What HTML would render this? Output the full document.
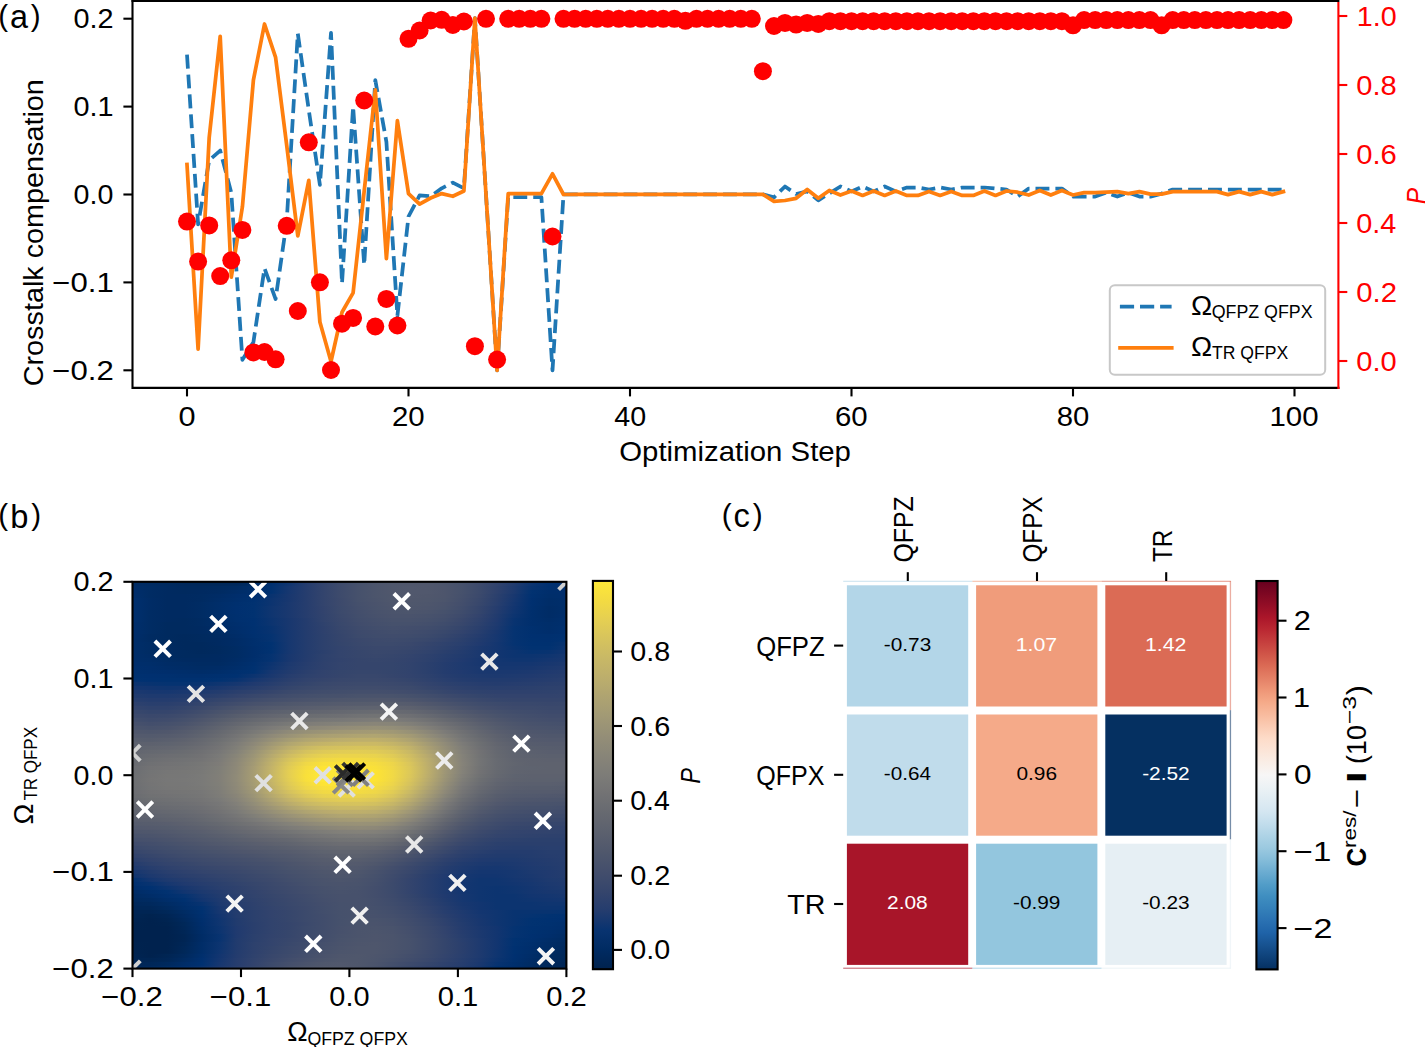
<!DOCTYPE html>
<html><head><meta charset="utf-8"><title>figure</title>
<style>
html,body{margin:0;padding:0;background:#fff;width:1425px;height:1047px;overflow:hidden;}
svg{display:block;}
text{font-family:"Liberation Sans", sans-serif;}
</style></head><body>
<svg width="1425" height="1047" viewBox="0 0 1425 1047">
<rect width="1425" height="1047" fill="#fff"/>
<defs><clipPath id="ca"><rect x="132.5" y="1.0" width="1205.9" height="386.9"/></clipPath></defs>
<g clip-path="url(#ca)">
<polyline points="187.0,54.7 198.1,224.4 209.2,160.2 220.2,150.6 231.3,192.7 242.4,359.8 253.4,342.2 264.5,268.3 275.6,299.1 286.7,221.7 297.8,33.6 308.8,110.1 319.9,184.8 331.0,32.8 342.0,283.3 353.1,106.6 364.2,264.8 375.3,80.2 386.4,141.8 397.4,315.8 408.5,216.5 419.6,195.4 430.6,196.3 441.7,188.3 452.8,182.6 463.9,188.3 474.9,18.1 486.0,194.5 497.1,370.3 508.2,197.1 519.2,197.1 530.3,197.1 541.4,197.1 552.5,370.3 563.5,194.5 574.6,194.4 585.7,194.4 596.8,194.4 607.8,194.4 618.9,194.4 630.0,194.4 641.1,194.4 652.1,194.4 663.2,194.4 674.3,194.4 685.4,194.4 696.5,194.4 707.5,194.4 718.6,194.4 729.7,194.4 740.8,194.4 751.8,194.4 762.9,194.4 774.0,197.3 785.0,186.5 796.1,194.0 807.2,191.4 818.3,200.3 829.3,193.4 840.4,186.5 851.5,191.4 862.6,186.5 873.6,191.4 884.7,186.5 895.8,191.4 906.9,187.5 917.9,187.5 929.0,189.5 940.1,187.5 951.2,189.5 962.2,187.5 973.3,187.5 984.4,187.5 995.5,188.5 1006.5,189.5 1017.6,196.6 1028.7,188.5 1039.8,188.5 1050.8,188.5 1061.9,188.5 1073.0,196.6 1084.1,196.6 1095.2,196.6 1106.2,192.6 1117.3,196.6 1128.4,192.6 1139.4,196.6 1150.5,196.6 1161.6,193.6 1172.7,189.5 1183.8,189.5 1194.8,189.5 1205.9,189.5 1217.0,189.5 1228.0,189.5 1239.1,189.5 1250.2,189.5 1261.3,189.5 1272.3,189.5 1283.4,189.5" fill="none" stroke="#1f77b4" stroke-width="3.75" stroke-dasharray="13.9 6" stroke-linejoin="round"/>
<polyline points="187.0,164.6 198.1,349.2 209.2,137.4 220.2,36.3 231.3,277.1 242.4,206.8 253.4,80.2 264.5,24.0 275.6,57.4 286.7,145.3 297.8,235.8 308.8,180.4 319.9,322.0 331.0,361.5 342.0,312.3 353.1,292.9 364.2,191.0 375.3,89.9 386.4,258.7 397.4,120.7 408.5,193.6 419.6,204.2 430.6,198.0 441.7,193.6 452.8,196.3 463.9,191.0 474.9,18.1 486.0,194.5 497.1,370.3 508.2,193.6 519.2,193.6 530.3,193.6 541.4,193.6 552.5,173.8 563.5,194.5 574.6,194.4 585.7,194.4 596.8,194.4 607.8,194.4 618.9,194.4 630.0,194.4 641.1,194.4 652.1,194.4 663.2,194.4 674.3,194.4 685.4,194.4 696.5,194.4 707.5,194.4 718.6,194.4 729.7,194.4 740.8,194.4 751.8,194.4 762.9,194.4 774.0,201.3 785.0,200.5 796.1,198.3 807.2,189.5 818.3,198.3 829.3,190.5 840.4,195.0 851.5,191.0 862.6,195.4 873.6,191.0 884.7,195.4 895.8,191.0 906.9,195.4 917.9,195.4 929.0,191.4 940.1,195.4 951.2,191.4 962.2,195.4 973.3,195.4 984.4,191.0 995.5,195.4 1006.5,191.0 1017.6,192.2 1028.7,195.0 1039.8,190.5 1050.8,195.0 1061.9,190.5 1073.0,195.0 1084.1,192.6 1095.2,192.6 1106.2,192.2 1117.3,191.6 1128.4,193.6 1139.4,191.6 1150.5,194.2 1161.6,194.2 1172.7,191.6 1183.8,191.6 1194.8,191.6 1205.9,191.6 1217.0,191.6 1228.0,194.6 1239.1,191.6 1250.2,194.6 1261.3,191.6 1272.3,194.6 1283.4,191.6" fill="none" stroke="#ff7f0e" stroke-width="3.75" stroke-linejoin="round" stroke-linecap="square"/>
<g fill="#ff0000">
<circle cx="187.0" cy="221.6" r="9.0"/>
<circle cx="198.1" cy="261.6" r="9.0"/>
<circle cx="209.2" cy="225.4" r="9.0"/>
<circle cx="220.2" cy="276.1" r="9.0"/>
<circle cx="231.3" cy="260.3" r="9.0"/>
<circle cx="242.4" cy="229.9" r="9.0"/>
<circle cx="253.4" cy="352.4" r="9.0"/>
<circle cx="264.5" cy="352.0" r="9.0"/>
<circle cx="275.6" cy="359.3" r="9.0"/>
<circle cx="286.7" cy="225.8" r="9.0"/>
<circle cx="297.8" cy="311.0" r="9.0"/>
<circle cx="308.8" cy="142.3" r="9.0"/>
<circle cx="319.9" cy="282.3" r="9.0"/>
<circle cx="331.0" cy="370.0" r="9.0"/>
<circle cx="342.0" cy="323.7" r="9.0"/>
<circle cx="353.1" cy="317.9" r="9.0"/>
<circle cx="364.2" cy="100.5" r="9.0"/>
<circle cx="375.3" cy="326.5" r="9.0"/>
<circle cx="386.4" cy="298.9" r="9.0"/>
<circle cx="397.4" cy="325.5" r="9.0"/>
<circle cx="408.5" cy="38.8" r="9.0"/>
<circle cx="419.6" cy="30.5" r="9.0"/>
<circle cx="430.6" cy="20.5" r="9.0"/>
<circle cx="441.7" cy="19.8" r="9.0"/>
<circle cx="452.8" cy="25.0" r="9.0"/>
<circle cx="463.9" cy="21.5" r="9.0"/>
<circle cx="474.9" cy="346.2" r="9.0"/>
<circle cx="486.0" cy="18.8" r="9.0"/>
<circle cx="497.1" cy="359.6" r="9.0"/>
<circle cx="508.2" cy="18.8" r="9.0"/>
<circle cx="519.2" cy="18.8" r="9.0"/>
<circle cx="530.3" cy="18.8" r="9.0"/>
<circle cx="541.4" cy="18.8" r="9.0"/>
<circle cx="552.5" cy="236.5" r="9.0"/>
<circle cx="563.5" cy="18.8" r="9.0"/>
<circle cx="574.6" cy="18.8" r="9.0"/>
<circle cx="585.7" cy="18.8" r="9.0"/>
<circle cx="596.8" cy="18.8" r="9.0"/>
<circle cx="607.8" cy="18.8" r="9.0"/>
<circle cx="618.9" cy="18.8" r="9.0"/>
<circle cx="630.0" cy="18.8" r="9.0"/>
<circle cx="641.1" cy="18.8" r="9.0"/>
<circle cx="652.1" cy="18.8" r="9.0"/>
<circle cx="663.2" cy="18.8" r="9.0"/>
<circle cx="674.3" cy="18.8" r="9.0"/>
<circle cx="685.4" cy="20.8" r="9.0"/>
<circle cx="696.5" cy="18.8" r="9.0"/>
<circle cx="707.5" cy="18.8" r="9.0"/>
<circle cx="718.6" cy="18.8" r="9.0"/>
<circle cx="729.7" cy="18.8" r="9.0"/>
<circle cx="740.8" cy="18.8" r="9.0"/>
<circle cx="751.8" cy="18.8" r="9.0"/>
<circle cx="762.9" cy="71.2" r="9.0"/>
<circle cx="774.0" cy="26.0" r="9.0"/>
<circle cx="785.0" cy="22.9" r="9.0"/>
<circle cx="796.1" cy="24.6" r="9.0"/>
<circle cx="807.2" cy="22.9" r="9.0"/>
<circle cx="818.3" cy="23.9" r="9.0"/>
<circle cx="829.3" cy="21.2" r="9.0"/>
<circle cx="840.4" cy="21.2" r="9.0"/>
<circle cx="851.5" cy="21.2" r="9.0"/>
<circle cx="862.6" cy="21.2" r="9.0"/>
<circle cx="873.6" cy="21.2" r="9.0"/>
<circle cx="884.7" cy="21.2" r="9.0"/>
<circle cx="895.8" cy="21.2" r="9.0"/>
<circle cx="906.9" cy="21.2" r="9.0"/>
<circle cx="917.9" cy="21.2" r="9.0"/>
<circle cx="929.0" cy="21.2" r="9.0"/>
<circle cx="940.1" cy="21.2" r="9.0"/>
<circle cx="951.2" cy="21.2" r="9.0"/>
<circle cx="962.2" cy="21.2" r="9.0"/>
<circle cx="973.3" cy="21.2" r="9.0"/>
<circle cx="984.4" cy="21.2" r="9.0"/>
<circle cx="995.5" cy="21.2" r="9.0"/>
<circle cx="1006.5" cy="21.2" r="9.0"/>
<circle cx="1017.6" cy="21.2" r="9.0"/>
<circle cx="1028.7" cy="21.2" r="9.0"/>
<circle cx="1039.8" cy="21.2" r="9.0"/>
<circle cx="1050.8" cy="21.2" r="9.0"/>
<circle cx="1061.9" cy="21.2" r="9.0"/>
<circle cx="1073.0" cy="25.3" r="9.0"/>
<circle cx="1084.1" cy="20.1" r="9.0"/>
<circle cx="1095.2" cy="20.1" r="9.0"/>
<circle cx="1106.2" cy="20.1" r="9.0"/>
<circle cx="1117.3" cy="20.1" r="9.0"/>
<circle cx="1128.4" cy="20.1" r="9.0"/>
<circle cx="1139.4" cy="20.1" r="9.0"/>
<circle cx="1150.5" cy="20.1" r="9.0"/>
<circle cx="1161.6" cy="25.3" r="9.0"/>
<circle cx="1172.7" cy="20.1" r="9.0"/>
<circle cx="1183.8" cy="20.1" r="9.0"/>
<circle cx="1194.8" cy="20.1" r="9.0"/>
<circle cx="1205.9" cy="20.1" r="9.0"/>
<circle cx="1217.0" cy="20.1" r="9.0"/>
<circle cx="1228.0" cy="20.1" r="9.0"/>
<circle cx="1239.1" cy="20.1" r="9.0"/>
<circle cx="1250.2" cy="20.1" r="9.0"/>
<circle cx="1261.3" cy="20.1" r="9.0"/>
<circle cx="1272.3" cy="20.1" r="9.0"/>
<circle cx="1283.4" cy="20.1" r="9.0"/>
</g></g>
<rect x="1109.8" y="285.3" width="215.4" height="89.4" rx="5" ry="5" fill="#fff" fill-opacity="0.8" stroke="#c8c8c8" stroke-width="2.0"/>
<line x1="1119.9" y1="306.7" x2="1171.6" y2="306.7" stroke="#1f77b4" stroke-width="3.75" stroke-dasharray="14.2 5.9"/>
<line x1="1118.2" y1="347.9" x2="1173.6" y2="347.9" stroke="#ff7f0e" stroke-width="3.75"/>
<text x="1191.02" y="315.1" font-size="27" textLength="21.18" lengthAdjust="spacingAndGlyphs">Ω</text>
<text x="1211.7" y="318" font-size="18.8" textLength="100.89" lengthAdjust="spacingAndGlyphs">QFPZ QFPX</text>
<text x="1191.02" y="355.8" font-size="27" textLength="21.18" lengthAdjust="spacingAndGlyphs">Ω</text>
<text x="1212.06" y="358.6" font-size="18.8" textLength="76.15" lengthAdjust="spacingAndGlyphs">TR QFPX</text>
<path d="M132.5 1.0 V387.9 H1338.4" fill="none" stroke="#000" stroke-width="2.1" stroke-linecap="square"/>
<line x1="131.5" y1="1.0" x2="1339.4" y2="1.0" stroke="#000" stroke-width="2.1"/>
<line x1="1338.4" y1="2.0" x2="1338.4" y2="388.9" stroke="#ff0000" stroke-width="2.1"/>
<line x1="123.4" y1="18.7" x2="132.5" y2="18.7" stroke="#000" stroke-width="2.1"/>
<text x="73.55" y="28.4" font-size="27.3" textLength="40.1" lengthAdjust="spacingAndGlyphs">0.2</text>
<line x1="123.4" y1="106.6" x2="132.5" y2="106.6" stroke="#000" stroke-width="2.1"/>
<text x="73.55" y="116.3" font-size="27.3" textLength="40.1" lengthAdjust="spacingAndGlyphs">0.1</text>
<line x1="123.4" y1="194.5" x2="132.5" y2="194.5" stroke="#000" stroke-width="2.1"/>
<text x="73.55" y="204.2" font-size="27.3" textLength="39.79" lengthAdjust="spacingAndGlyphs">0.0</text>
<line x1="123.4" y1="282.4" x2="132.5" y2="282.4" stroke="#000" stroke-width="2.1"/>
<text x="52.24" y="292.1" font-size="27.3" textLength="61.49" lengthAdjust="spacingAndGlyphs">−0.1</text>
<line x1="123.4" y1="370.3" x2="132.5" y2="370.3" stroke="#000" stroke-width="2.1"/>
<text x="52.24" y="380" font-size="27.3" textLength="61.49" lengthAdjust="spacingAndGlyphs">−0.2</text>
<line x1="1338.4" y1="361.0" x2="1347.3" y2="361.0" stroke="#ff0000" stroke-width="2.1"/>
<text x="1356.24" y="371.1" font-size="27.3" textLength="40.43" lengthAdjust="spacingAndGlyphs" fill="#ff0000">0.0</text>
<line x1="1338.4" y1="292.0" x2="1347.3" y2="292.0" stroke="#ff0000" stroke-width="2.1"/>
<text x="1356.23" y="302.1" font-size="27.3" textLength="40.74" lengthAdjust="spacingAndGlyphs" fill="#ff0000">0.2</text>
<line x1="1338.4" y1="223.0" x2="1347.3" y2="223.0" stroke="#ff0000" stroke-width="2.1"/>
<text x="1356.25" y="233.1" font-size="27.3" textLength="40.12" lengthAdjust="spacingAndGlyphs" fill="#ff0000">0.4</text>
<line x1="1338.4" y1="154.0" x2="1347.3" y2="154.0" stroke="#ff0000" stroke-width="2.1"/>
<text x="1356.23" y="164.1" font-size="27.3" textLength="40.59" lengthAdjust="spacingAndGlyphs" fill="#ff0000">0.6</text>
<line x1="1338.4" y1="85.0" x2="1347.3" y2="85.0" stroke="#ff0000" stroke-width="2.1"/>
<text x="1356.24" y="95.1" font-size="27.3" textLength="40.43" lengthAdjust="spacingAndGlyphs" fill="#ff0000">0.8</text>
<line x1="1338.4" y1="16.0" x2="1347.3" y2="16.0" stroke="#ff0000" stroke-width="2.1"/>
<text x="1356.75" y="26.1" font-size="27.3" textLength="39.91" lengthAdjust="spacingAndGlyphs" fill="#ff0000">1.0</text>
<line x1="187.0" y1="387.9" x2="187.0" y2="396.4" stroke="#000" stroke-width="2.1"/>
<text x="178.47" y="426" font-size="27.3" textLength="17.09" lengthAdjust="spacingAndGlyphs">0</text>
<line x1="408.5" y1="387.9" x2="408.5" y2="396.4" stroke="#000" stroke-width="2.1"/>
<text x="392.03" y="426" font-size="27.3" textLength="32.72" lengthAdjust="spacingAndGlyphs">20</text>
<line x1="630.0" y1="387.9" x2="630.0" y2="396.4" stroke="#000" stroke-width="2.1"/>
<text x="614.28" y="426" font-size="27.3" textLength="31.93" lengthAdjust="spacingAndGlyphs">40</text>
<line x1="851.5" y1="387.9" x2="851.5" y2="396.4" stroke="#000" stroke-width="2.1"/>
<text x="835.03" y="426" font-size="27.3" textLength="32.72" lengthAdjust="spacingAndGlyphs">60</text>
<line x1="1073.0" y1="387.9" x2="1073.0" y2="396.4" stroke="#000" stroke-width="2.1"/>
<text x="1056.68" y="426" font-size="27.3" textLength="32.56" lengthAdjust="spacingAndGlyphs">80</text>
<line x1="1294.5" y1="387.9" x2="1294.5" y2="396.4" stroke="#000" stroke-width="2.1"/>
<text x="1269.49" y="426" font-size="27.3" textLength="49.09" lengthAdjust="spacingAndGlyphs">100</text>
<text x="619.28" y="460.5" font-size="27.3" textLength="231.68" lengthAdjust="spacingAndGlyphs">Optimization Step</text>
<text transform="translate(42.9 386.24) rotate(-90)" x="0" y="0" font-size="27.3" textLength="307.06" lengthAdjust="spacingAndGlyphs">Crosstalk compensation</text>
<text transform="translate(1425.5 204.24) rotate(-90)" x="0" y="0" font-size="27.3" textLength="16.41" lengthAdjust="spacingAndGlyphs" fill="#ff0000" font-style="italic">P</text>
<text><tspan x="-1.74" y="26.13" font-size="29.51">(</tspan><tspan x="9.89" y="28.44" font-size="32.41">a</tspan><tspan x="30.66" y="26.13" font-size="29.51">)</tspan></text>
<defs><clipPath id="cb"><rect x="132.5" y="581.8" width="433.9" height="386.80000000000007"/></clipPath>
<linearGradient id="g0" x1="0" x2="1" y1="0" y2="0"><stop offset="0.000" stop-color="#002c64"/><stop offset="0.040" stop-color="#002b62"/><stop offset="0.080" stop-color="#002a5f"/><stop offset="0.120" stop-color="#00285b"/><stop offset="0.160" stop-color="#002859"/><stop offset="0.200" stop-color="#002859"/><stop offset="0.240" stop-color="#00285b"/><stop offset="0.280" stop-color="#002b62"/><stop offset="0.320" stop-color="#00306f"/><stop offset="0.360" stop-color="#0f3570"/><stop offset="0.400" stop-color="#243c6e"/><stop offset="0.440" stop-color="#33446d"/><stop offset="0.480" stop-color="#3e4b6c"/><stop offset="0.520" stop-color="#46516c"/><stop offset="0.560" stop-color="#4c556c"/><stop offset="0.600" stop-color="#4f576c"/><stop offset="0.640" stop-color="#50576c"/><stop offset="0.680" stop-color="#50576c"/><stop offset="0.720" stop-color="#4c556c"/><stop offset="0.760" stop-color="#46516c"/><stop offset="0.800" stop-color="#3d4a6c"/><stop offset="0.840" stop-color="#31436d"/><stop offset="0.880" stop-color="#213b6e"/><stop offset="0.920" stop-color="#0c3470"/><stop offset="0.960" stop-color="#003070"/><stop offset="1.000" stop-color="#00306f"/></linearGradient><linearGradient id="g1" x1="0" x2="1" y1="0" y2="0"><stop offset="0.000" stop-color="#002d68"/><stop offset="0.040" stop-color="#002c64"/><stop offset="0.080" stop-color="#002a61"/><stop offset="0.120" stop-color="#00295d"/><stop offset="0.160" stop-color="#00295d"/><stop offset="0.200" stop-color="#002a5f"/><stop offset="0.240" stop-color="#002b62"/><stop offset="0.280" stop-color="#002e6a"/><stop offset="0.320" stop-color="#003170"/><stop offset="0.360" stop-color="#143670"/><stop offset="0.400" stop-color="#243c6e"/><stop offset="0.440" stop-color="#33446d"/><stop offset="0.480" stop-color="#3e4b6c"/><stop offset="0.520" stop-color="#47516c"/><stop offset="0.560" stop-color="#4c556c"/><stop offset="0.600" stop-color="#4f576c"/><stop offset="0.640" stop-color="#51586d"/><stop offset="0.680" stop-color="#50576c"/><stop offset="0.720" stop-color="#4d556c"/><stop offset="0.760" stop-color="#46516c"/><stop offset="0.800" stop-color="#3c4a6c"/><stop offset="0.840" stop-color="#2f426d"/><stop offset="0.880" stop-color="#1e3a6f"/><stop offset="0.920" stop-color="#083370"/><stop offset="0.960" stop-color="#00306f"/><stop offset="1.000" stop-color="#002f6d"/></linearGradient><linearGradient id="g2" x1="0" x2="1" y1="0" y2="0"><stop offset="0.000" stop-color="#002e6c"/><stop offset="0.040" stop-color="#002c64"/><stop offset="0.080" stop-color="#002a61"/><stop offset="0.120" stop-color="#002a5f"/><stop offset="0.160" stop-color="#002a61"/><stop offset="0.200" stop-color="#002b62"/><stop offset="0.240" stop-color="#002d68"/><stop offset="0.280" stop-color="#002f6d"/><stop offset="0.320" stop-color="#013271"/><stop offset="0.360" stop-color="#163770"/><stop offset="0.400" stop-color="#263d6e"/><stop offset="0.440" stop-color="#33446d"/><stop offset="0.480" stop-color="#3e4b6c"/><stop offset="0.520" stop-color="#46516c"/><stop offset="0.560" stop-color="#4c556c"/><stop offset="0.600" stop-color="#50576c"/><stop offset="0.640" stop-color="#51586d"/><stop offset="0.680" stop-color="#51586d"/><stop offset="0.720" stop-color="#4d556c"/><stop offset="0.760" stop-color="#46516c"/><stop offset="0.800" stop-color="#3c4a6c"/><stop offset="0.840" stop-color="#2e416d"/><stop offset="0.880" stop-color="#1c396f"/><stop offset="0.920" stop-color="#013271"/><stop offset="0.960" stop-color="#002e6c"/><stop offset="1.000" stop-color="#002e6c"/></linearGradient><linearGradient id="g3" x1="0" x2="1" y1="0" y2="0"><stop offset="0.000" stop-color="#002f6d"/><stop offset="0.040" stop-color="#002c64"/><stop offset="0.080" stop-color="#002a61"/><stop offset="0.120" stop-color="#002a61"/><stop offset="0.160" stop-color="#002b62"/><stop offset="0.200" stop-color="#002c66"/><stop offset="0.240" stop-color="#002e6c"/><stop offset="0.280" stop-color="#003070"/><stop offset="0.320" stop-color="#083370"/><stop offset="0.360" stop-color="#18376f"/><stop offset="0.400" stop-color="#263d6e"/><stop offset="0.440" stop-color="#33446d"/><stop offset="0.480" stop-color="#3e4b6c"/><stop offset="0.520" stop-color="#46516c"/><stop offset="0.560" stop-color="#4c556c"/><stop offset="0.600" stop-color="#4f576c"/><stop offset="0.640" stop-color="#51586d"/><stop offset="0.680" stop-color="#50576c"/><stop offset="0.720" stop-color="#4d556c"/><stop offset="0.760" stop-color="#45506c"/><stop offset="0.800" stop-color="#3b496c"/><stop offset="0.840" stop-color="#2b406d"/><stop offset="0.880" stop-color="#18376f"/><stop offset="0.920" stop-color="#003171"/><stop offset="0.960" stop-color="#002e6a"/><stop offset="1.000" stop-color="#002e6c"/></linearGradient><linearGradient id="g4" x1="0" x2="1" y1="0" y2="0"><stop offset="0.000" stop-color="#00306f"/><stop offset="0.040" stop-color="#002c66"/><stop offset="0.080" stop-color="#002a61"/><stop offset="0.120" stop-color="#002a61"/><stop offset="0.160" stop-color="#002b62"/><stop offset="0.200" stop-color="#002d68"/><stop offset="0.240" stop-color="#002f6d"/><stop offset="0.280" stop-color="#003171"/><stop offset="0.320" stop-color="#0c3470"/><stop offset="0.360" stop-color="#18376f"/><stop offset="0.400" stop-color="#263d6e"/><stop offset="0.440" stop-color="#33446d"/><stop offset="0.480" stop-color="#3d4a6c"/><stop offset="0.520" stop-color="#46516c"/><stop offset="0.560" stop-color="#4b546c"/><stop offset="0.600" stop-color="#4f576c"/><stop offset="0.640" stop-color="#50576c"/><stop offset="0.680" stop-color="#4f576c"/><stop offset="0.720" stop-color="#4c556c"/><stop offset="0.760" stop-color="#444f6c"/><stop offset="0.800" stop-color="#39486c"/><stop offset="0.840" stop-color="#2a3f6d"/><stop offset="0.880" stop-color="#163770"/><stop offset="0.920" stop-color="#003070"/><stop offset="0.960" stop-color="#002d68"/><stop offset="1.000" stop-color="#002e6a"/></linearGradient><linearGradient id="g5" x1="0" x2="1" y1="0" y2="0"><stop offset="0.000" stop-color="#00306f"/><stop offset="0.040" stop-color="#002c66"/><stop offset="0.080" stop-color="#002a61"/><stop offset="0.120" stop-color="#002a61"/><stop offset="0.160" stop-color="#002c64"/><stop offset="0.200" stop-color="#002e6a"/><stop offset="0.240" stop-color="#00306f"/><stop offset="0.280" stop-color="#013271"/><stop offset="0.320" stop-color="#0c3470"/><stop offset="0.360" stop-color="#1a386f"/><stop offset="0.400" stop-color="#263d6e"/><stop offset="0.440" stop-color="#33446d"/><stop offset="0.480" stop-color="#3d4a6c"/><stop offset="0.520" stop-color="#45506c"/><stop offset="0.560" stop-color="#4a536c"/><stop offset="0.600" stop-color="#4e566c"/><stop offset="0.640" stop-color="#4f576c"/><stop offset="0.680" stop-color="#4e566c"/><stop offset="0.720" stop-color="#4a536c"/><stop offset="0.760" stop-color="#434e6c"/><stop offset="0.800" stop-color="#38476c"/><stop offset="0.840" stop-color="#293f6e"/><stop offset="0.880" stop-color="#143670"/><stop offset="0.920" stop-color="#003070"/><stop offset="0.960" stop-color="#002d68"/><stop offset="1.000" stop-color="#002e6a"/></linearGradient><linearGradient id="g6" x1="0" x2="1" y1="0" y2="0"><stop offset="0.000" stop-color="#00306f"/><stop offset="0.040" stop-color="#002c66"/><stop offset="0.080" stop-color="#002a61"/><stop offset="0.120" stop-color="#002a61"/><stop offset="0.160" stop-color="#002c64"/><stop offset="0.200" stop-color="#002e6a"/><stop offset="0.240" stop-color="#003070"/><stop offset="0.280" stop-color="#013271"/><stop offset="0.320" stop-color="#0f3570"/><stop offset="0.360" stop-color="#1a386f"/><stop offset="0.400" stop-color="#263d6e"/><stop offset="0.440" stop-color="#32436d"/><stop offset="0.480" stop-color="#3c4a6c"/><stop offset="0.520" stop-color="#444f6c"/><stop offset="0.560" stop-color="#49536c"/><stop offset="0.600" stop-color="#4d556c"/><stop offset="0.640" stop-color="#4e566c"/><stop offset="0.680" stop-color="#4d556c"/><stop offset="0.720" stop-color="#49536c"/><stop offset="0.760" stop-color="#414d6c"/><stop offset="0.800" stop-color="#35456c"/><stop offset="0.840" stop-color="#263d6e"/><stop offset="0.880" stop-color="#123570"/><stop offset="0.920" stop-color="#00306f"/><stop offset="0.960" stop-color="#002c66"/><stop offset="1.000" stop-color="#002e6a"/></linearGradient><linearGradient id="g7" x1="0" x2="1" y1="0" y2="0"><stop offset="0.000" stop-color="#00306f"/><stop offset="0.040" stop-color="#002c64"/><stop offset="0.080" stop-color="#002a61"/><stop offset="0.120" stop-color="#002a61"/><stop offset="0.160" stop-color="#002c64"/><stop offset="0.200" stop-color="#002e6a"/><stop offset="0.240" stop-color="#003070"/><stop offset="0.280" stop-color="#013271"/><stop offset="0.320" stop-color="#0f3570"/><stop offset="0.360" stop-color="#1a386f"/><stop offset="0.400" stop-color="#263d6e"/><stop offset="0.440" stop-color="#32436d"/><stop offset="0.480" stop-color="#3c4a6c"/><stop offset="0.520" stop-color="#434e6c"/><stop offset="0.560" stop-color="#48526c"/><stop offset="0.600" stop-color="#4b546c"/><stop offset="0.640" stop-color="#4c556c"/><stop offset="0.680" stop-color="#4b546c"/><stop offset="0.720" stop-color="#46516c"/><stop offset="0.760" stop-color="#3f4c6c"/><stop offset="0.800" stop-color="#34456c"/><stop offset="0.840" stop-color="#243c6e"/><stop offset="0.880" stop-color="#0f3570"/><stop offset="0.920" stop-color="#002f6d"/><stop offset="0.960" stop-color="#002c66"/><stop offset="1.000" stop-color="#002e6a"/></linearGradient><linearGradient id="g8" x1="0" x2="1" y1="0" y2="0"><stop offset="0.000" stop-color="#00306f"/><stop offset="0.040" stop-color="#002c64"/><stop offset="0.080" stop-color="#002a61"/><stop offset="0.120" stop-color="#002a61"/><stop offset="0.160" stop-color="#002c64"/><stop offset="0.200" stop-color="#002e6a"/><stop offset="0.240" stop-color="#00306f"/><stop offset="0.280" stop-color="#013271"/><stop offset="0.320" stop-color="#0f3570"/><stop offset="0.360" stop-color="#1a386f"/><stop offset="0.400" stop-color="#263d6e"/><stop offset="0.440" stop-color="#31436d"/><stop offset="0.480" stop-color="#3b496c"/><stop offset="0.520" stop-color="#424e6c"/><stop offset="0.560" stop-color="#47516c"/><stop offset="0.600" stop-color="#4a536c"/><stop offset="0.640" stop-color="#4a536c"/><stop offset="0.680" stop-color="#48526c"/><stop offset="0.720" stop-color="#444f6c"/><stop offset="0.760" stop-color="#3d4a6c"/><stop offset="0.800" stop-color="#32436d"/><stop offset="0.840" stop-color="#213b6e"/><stop offset="0.880" stop-color="#0c3470"/><stop offset="0.920" stop-color="#002f6d"/><stop offset="0.960" stop-color="#002c66"/><stop offset="1.000" stop-color="#002e6c"/></linearGradient><linearGradient id="g9" x1="0" x2="1" y1="0" y2="0"><stop offset="0.000" stop-color="#00306f"/><stop offset="0.040" stop-color="#002c64"/><stop offset="0.080" stop-color="#002a61"/><stop offset="0.120" stop-color="#002a5f"/><stop offset="0.160" stop-color="#002b62"/><stop offset="0.200" stop-color="#002d68"/><stop offset="0.240" stop-color="#00306f"/><stop offset="0.280" stop-color="#003171"/><stop offset="0.320" stop-color="#0c3470"/><stop offset="0.360" stop-color="#18376f"/><stop offset="0.400" stop-color="#243c6e"/><stop offset="0.440" stop-color="#31436d"/><stop offset="0.480" stop-color="#3a486c"/><stop offset="0.520" stop-color="#414d6c"/><stop offset="0.560" stop-color="#45506c"/><stop offset="0.600" stop-color="#48526c"/><stop offset="0.640" stop-color="#48526c"/><stop offset="0.680" stop-color="#46516c"/><stop offset="0.720" stop-color="#424e6c"/><stop offset="0.760" stop-color="#3a486c"/><stop offset="0.800" stop-color="#2f426d"/><stop offset="0.840" stop-color="#203a6f"/><stop offset="0.880" stop-color="#083370"/><stop offset="0.920" stop-color="#002f6d"/><stop offset="0.960" stop-color="#002d68"/><stop offset="1.000" stop-color="#002f6d"/></linearGradient><linearGradient id="g10" x1="0" x2="1" y1="0" y2="0"><stop offset="0.000" stop-color="#002f6d"/><stop offset="0.040" stop-color="#002c64"/><stop offset="0.080" stop-color="#002a5f"/><stop offset="0.120" stop-color="#002a5f"/><stop offset="0.160" stop-color="#002b62"/><stop offset="0.200" stop-color="#002d68"/><stop offset="0.240" stop-color="#002f6d"/><stop offset="0.280" stop-color="#003171"/><stop offset="0.320" stop-color="#0c3470"/><stop offset="0.360" stop-color="#18376f"/><stop offset="0.400" stop-color="#243c6e"/><stop offset="0.440" stop-color="#2f426d"/><stop offset="0.480" stop-color="#39486c"/><stop offset="0.520" stop-color="#404c6c"/><stop offset="0.560" stop-color="#444f6c"/><stop offset="0.600" stop-color="#46516c"/><stop offset="0.640" stop-color="#46516c"/><stop offset="0.680" stop-color="#444f6c"/><stop offset="0.720" stop-color="#3f4c6c"/><stop offset="0.760" stop-color="#38476c"/><stop offset="0.800" stop-color="#2d416d"/><stop offset="0.840" stop-color="#1e3a6f"/><stop offset="0.880" stop-color="#083370"/><stop offset="0.920" stop-color="#002f6d"/><stop offset="0.960" stop-color="#002e6a"/><stop offset="1.000" stop-color="#002f6d"/></linearGradient><linearGradient id="g11" x1="0" x2="1" y1="0" y2="0"><stop offset="0.000" stop-color="#002f6d"/><stop offset="0.040" stop-color="#002c64"/><stop offset="0.080" stop-color="#002a5f"/><stop offset="0.120" stop-color="#002a5f"/><stop offset="0.160" stop-color="#002a61"/><stop offset="0.200" stop-color="#002c66"/><stop offset="0.240" stop-color="#002e6c"/><stop offset="0.280" stop-color="#003170"/><stop offset="0.320" stop-color="#083370"/><stop offset="0.360" stop-color="#18376f"/><stop offset="0.400" stop-color="#243c6e"/><stop offset="0.440" stop-color="#2e416d"/><stop offset="0.480" stop-color="#38476c"/><stop offset="0.520" stop-color="#3e4b6c"/><stop offset="0.560" stop-color="#424e6c"/><stop offset="0.600" stop-color="#444f6c"/><stop offset="0.640" stop-color="#434e6c"/><stop offset="0.680" stop-color="#414d6c"/><stop offset="0.720" stop-color="#3c4a6c"/><stop offset="0.760" stop-color="#34456c"/><stop offset="0.800" stop-color="#2a3f6d"/><stop offset="0.840" stop-color="#1c396f"/><stop offset="0.880" stop-color="#053371"/><stop offset="0.920" stop-color="#00306f"/><stop offset="0.960" stop-color="#002e6a"/><stop offset="1.000" stop-color="#00306f"/></linearGradient><linearGradient id="g12" x1="0" x2="1" y1="0" y2="0"><stop offset="0.000" stop-color="#002e6c"/><stop offset="0.040" stop-color="#002c64"/><stop offset="0.080" stop-color="#002a5f"/><stop offset="0.120" stop-color="#002a5f"/><stop offset="0.160" stop-color="#002a61"/><stop offset="0.200" stop-color="#002c64"/><stop offset="0.240" stop-color="#002e6a"/><stop offset="0.280" stop-color="#003070"/><stop offset="0.320" stop-color="#083370"/><stop offset="0.360" stop-color="#163770"/><stop offset="0.400" stop-color="#233c6e"/><stop offset="0.440" stop-color="#2e416d"/><stop offset="0.480" stop-color="#36466c"/><stop offset="0.520" stop-color="#3d4a6c"/><stop offset="0.560" stop-color="#404c6c"/><stop offset="0.600" stop-color="#424e6c"/><stop offset="0.640" stop-color="#414d6c"/><stop offset="0.680" stop-color="#3e4b6c"/><stop offset="0.720" stop-color="#39486c"/><stop offset="0.760" stop-color="#32436d"/><stop offset="0.800" stop-color="#273e6e"/><stop offset="0.840" stop-color="#18376f"/><stop offset="0.880" stop-color="#053371"/><stop offset="0.920" stop-color="#00306f"/><stop offset="0.960" stop-color="#002e6c"/><stop offset="1.000" stop-color="#003070"/></linearGradient><linearGradient id="g13" x1="0" x2="1" y1="0" y2="0"><stop offset="0.000" stop-color="#002e6c"/><stop offset="0.040" stop-color="#002b62"/><stop offset="0.080" stop-color="#002a5f"/><stop offset="0.120" stop-color="#00295d"/><stop offset="0.160" stop-color="#002a5f"/><stop offset="0.200" stop-color="#002b62"/><stop offset="0.240" stop-color="#002d68"/><stop offset="0.280" stop-color="#00306f"/><stop offset="0.320" stop-color="#053371"/><stop offset="0.360" stop-color="#163770"/><stop offset="0.400" stop-color="#233c6e"/><stop offset="0.440" stop-color="#2d416d"/><stop offset="0.480" stop-color="#35456c"/><stop offset="0.520" stop-color="#3c4a6c"/><stop offset="0.560" stop-color="#3f4c6c"/><stop offset="0.600" stop-color="#404c6c"/><stop offset="0.640" stop-color="#3f4c6c"/><stop offset="0.680" stop-color="#3c4a6c"/><stop offset="0.720" stop-color="#36466c"/><stop offset="0.760" stop-color="#2e416d"/><stop offset="0.800" stop-color="#243c6e"/><stop offset="0.840" stop-color="#163770"/><stop offset="0.880" stop-color="#053371"/><stop offset="0.920" stop-color="#003070"/><stop offset="0.960" stop-color="#00306f"/><stop offset="1.000" stop-color="#003171"/></linearGradient><linearGradient id="g14" x1="0" x2="1" y1="0" y2="0"><stop offset="0.000" stop-color="#002e6a"/><stop offset="0.040" stop-color="#002b62"/><stop offset="0.080" stop-color="#002a5f"/><stop offset="0.120" stop-color="#00295d"/><stop offset="0.160" stop-color="#002a5f"/><stop offset="0.200" stop-color="#002a61"/><stop offset="0.240" stop-color="#002c66"/><stop offset="0.280" stop-color="#002f6d"/><stop offset="0.320" stop-color="#053371"/><stop offset="0.360" stop-color="#163770"/><stop offset="0.400" stop-color="#233c6e"/><stop offset="0.440" stop-color="#2d416d"/><stop offset="0.480" stop-color="#35456c"/><stop offset="0.520" stop-color="#3a486c"/><stop offset="0.560" stop-color="#3d4a6c"/><stop offset="0.600" stop-color="#3e4b6c"/><stop offset="0.640" stop-color="#3c4a6c"/><stop offset="0.680" stop-color="#39486c"/><stop offset="0.720" stop-color="#33446d"/><stop offset="0.760" stop-color="#2b406d"/><stop offset="0.800" stop-color="#213b6e"/><stop offset="0.840" stop-color="#163770"/><stop offset="0.880" stop-color="#053371"/><stop offset="0.920" stop-color="#003170"/><stop offset="0.960" stop-color="#003070"/><stop offset="1.000" stop-color="#013271"/></linearGradient><linearGradient id="g15" x1="0" x2="1" y1="0" y2="0"><stop offset="0.000" stop-color="#002e6a"/><stop offset="0.040" stop-color="#002c64"/><stop offset="0.080" stop-color="#002a5f"/><stop offset="0.120" stop-color="#00295d"/><stop offset="0.160" stop-color="#00295d"/><stop offset="0.200" stop-color="#002a61"/><stop offset="0.240" stop-color="#002c66"/><stop offset="0.280" stop-color="#002f6d"/><stop offset="0.320" stop-color="#013271"/><stop offset="0.360" stop-color="#163770"/><stop offset="0.400" stop-color="#233c6e"/><stop offset="0.440" stop-color="#2d416d"/><stop offset="0.480" stop-color="#34456c"/><stop offset="0.520" stop-color="#39486c"/><stop offset="0.560" stop-color="#3c4a6c"/><stop offset="0.600" stop-color="#3c4a6c"/><stop offset="0.640" stop-color="#3a486c"/><stop offset="0.680" stop-color="#35456c"/><stop offset="0.720" stop-color="#2f426d"/><stop offset="0.760" stop-color="#293f6e"/><stop offset="0.800" stop-color="#203a6f"/><stop offset="0.840" stop-color="#143670"/><stop offset="0.880" stop-color="#053371"/><stop offset="0.920" stop-color="#003171"/><stop offset="0.960" stop-color="#003170"/><stop offset="1.000" stop-color="#083370"/></linearGradient><linearGradient id="g16" x1="0" x2="1" y1="0" y2="0"><stop offset="0.000" stop-color="#002e6a"/><stop offset="0.040" stop-color="#002c64"/><stop offset="0.080" stop-color="#002a61"/><stop offset="0.120" stop-color="#00295d"/><stop offset="0.160" stop-color="#00295d"/><stop offset="0.200" stop-color="#002a5f"/><stop offset="0.240" stop-color="#002c64"/><stop offset="0.280" stop-color="#002e6c"/><stop offset="0.320" stop-color="#013271"/><stop offset="0.360" stop-color="#163770"/><stop offset="0.400" stop-color="#233c6e"/><stop offset="0.440" stop-color="#2d416d"/><stop offset="0.480" stop-color="#33446d"/><stop offset="0.520" stop-color="#38476c"/><stop offset="0.560" stop-color="#3a486c"/><stop offset="0.600" stop-color="#3a486c"/><stop offset="0.640" stop-color="#38476c"/><stop offset="0.680" stop-color="#33446d"/><stop offset="0.720" stop-color="#2d416d"/><stop offset="0.760" stop-color="#263d6e"/><stop offset="0.800" stop-color="#1c396f"/><stop offset="0.840" stop-color="#143670"/><stop offset="0.880" stop-color="#083370"/><stop offset="0.920" stop-color="#013271"/><stop offset="0.960" stop-color="#013271"/><stop offset="1.000" stop-color="#0c3470"/></linearGradient><linearGradient id="g17" x1="0" x2="1" y1="0" y2="0"><stop offset="0.000" stop-color="#002e6a"/><stop offset="0.040" stop-color="#002c64"/><stop offset="0.080" stop-color="#002a61"/><stop offset="0.120" stop-color="#002a5f"/><stop offset="0.160" stop-color="#00295d"/><stop offset="0.200" stop-color="#002a5f"/><stop offset="0.240" stop-color="#002c64"/><stop offset="0.280" stop-color="#002e6c"/><stop offset="0.320" stop-color="#013271"/><stop offset="0.360" stop-color="#163770"/><stop offset="0.400" stop-color="#233c6e"/><stop offset="0.440" stop-color="#2b406d"/><stop offset="0.480" stop-color="#33446d"/><stop offset="0.520" stop-color="#36466c"/><stop offset="0.560" stop-color="#39486c"/><stop offset="0.600" stop-color="#38476c"/><stop offset="0.640" stop-color="#35456c"/><stop offset="0.680" stop-color="#31436d"/><stop offset="0.720" stop-color="#2a3f6d"/><stop offset="0.760" stop-color="#233c6e"/><stop offset="0.800" stop-color="#1a386f"/><stop offset="0.840" stop-color="#123570"/><stop offset="0.880" stop-color="#0c3470"/><stop offset="0.920" stop-color="#053371"/><stop offset="0.960" stop-color="#083370"/><stop offset="1.000" stop-color="#123570"/></linearGradient><linearGradient id="g18" x1="0" x2="1" y1="0" y2="0"><stop offset="0.000" stop-color="#002e6a"/><stop offset="0.040" stop-color="#002c66"/><stop offset="0.080" stop-color="#002b62"/><stop offset="0.120" stop-color="#002a5f"/><stop offset="0.160" stop-color="#002a5f"/><stop offset="0.200" stop-color="#002a61"/><stop offset="0.240" stop-color="#002c64"/><stop offset="0.280" stop-color="#002e6c"/><stop offset="0.320" stop-color="#053371"/><stop offset="0.360" stop-color="#18376f"/><stop offset="0.400" stop-color="#233c6e"/><stop offset="0.440" stop-color="#2d416d"/><stop offset="0.480" stop-color="#33446d"/><stop offset="0.520" stop-color="#36466c"/><stop offset="0.560" stop-color="#38476c"/><stop offset="0.600" stop-color="#36466c"/><stop offset="0.640" stop-color="#33446d"/><stop offset="0.680" stop-color="#2e416d"/><stop offset="0.720" stop-color="#273e6e"/><stop offset="0.760" stop-color="#213b6e"/><stop offset="0.800" stop-color="#1a386f"/><stop offset="0.840" stop-color="#123570"/><stop offset="0.880" stop-color="#0c3470"/><stop offset="0.920" stop-color="#0c3470"/><stop offset="0.960" stop-color="#0f3570"/><stop offset="1.000" stop-color="#163770"/></linearGradient><linearGradient id="g19" x1="0" x2="1" y1="0" y2="0"><stop offset="0.000" stop-color="#002e6a"/><stop offset="0.040" stop-color="#002d68"/><stop offset="0.080" stop-color="#002c64"/><stop offset="0.120" stop-color="#002a61"/><stop offset="0.160" stop-color="#002a61"/><stop offset="0.200" stop-color="#002a61"/><stop offset="0.240" stop-color="#002c66"/><stop offset="0.280" stop-color="#002f6d"/><stop offset="0.320" stop-color="#053371"/><stop offset="0.360" stop-color="#18376f"/><stop offset="0.400" stop-color="#243c6e"/><stop offset="0.440" stop-color="#2d416d"/><stop offset="0.480" stop-color="#32436d"/><stop offset="0.520" stop-color="#35456c"/><stop offset="0.560" stop-color="#36466c"/><stop offset="0.600" stop-color="#35456c"/><stop offset="0.640" stop-color="#32436d"/><stop offset="0.680" stop-color="#2d416d"/><stop offset="0.720" stop-color="#263d6e"/><stop offset="0.760" stop-color="#203a6f"/><stop offset="0.800" stop-color="#18376f"/><stop offset="0.840" stop-color="#143670"/><stop offset="0.880" stop-color="#0f3570"/><stop offset="0.920" stop-color="#0f3570"/><stop offset="0.960" stop-color="#143670"/><stop offset="1.000" stop-color="#18376f"/></linearGradient><linearGradient id="g20" x1="0" x2="1" y1="0" y2="0"><stop offset="0.000" stop-color="#002e6c"/><stop offset="0.040" stop-color="#002e6a"/><stop offset="0.080" stop-color="#002c66"/><stop offset="0.120" stop-color="#002c64"/><stop offset="0.160" stop-color="#002b62"/><stop offset="0.200" stop-color="#002b62"/><stop offset="0.240" stop-color="#002d68"/><stop offset="0.280" stop-color="#00306f"/><stop offset="0.320" stop-color="#0c3470"/><stop offset="0.360" stop-color="#1c396f"/><stop offset="0.400" stop-color="#263d6e"/><stop offset="0.440" stop-color="#2e416d"/><stop offset="0.480" stop-color="#33446d"/><stop offset="0.520" stop-color="#35456c"/><stop offset="0.560" stop-color="#35456c"/><stop offset="0.600" stop-color="#34456c"/><stop offset="0.640" stop-color="#31436d"/><stop offset="0.680" stop-color="#2b406d"/><stop offset="0.720" stop-color="#243c6e"/><stop offset="0.760" stop-color="#1e3a6f"/><stop offset="0.800" stop-color="#18376f"/><stop offset="0.840" stop-color="#143670"/><stop offset="0.880" stop-color="#143670"/><stop offset="0.920" stop-color="#143670"/><stop offset="0.960" stop-color="#18376f"/><stop offset="1.000" stop-color="#1c396f"/></linearGradient><linearGradient id="g21" x1="0" x2="1" y1="0" y2="0"><stop offset="0.000" stop-color="#002f6d"/><stop offset="0.040" stop-color="#002e6c"/><stop offset="0.080" stop-color="#002d68"/><stop offset="0.120" stop-color="#002c66"/><stop offset="0.160" stop-color="#002c64"/><stop offset="0.200" stop-color="#002c66"/><stop offset="0.240" stop-color="#002e6a"/><stop offset="0.280" stop-color="#003170"/><stop offset="0.320" stop-color="#0f3570"/><stop offset="0.360" stop-color="#1e3a6f"/><stop offset="0.400" stop-color="#273e6e"/><stop offset="0.440" stop-color="#2e416d"/><stop offset="0.480" stop-color="#33446d"/><stop offset="0.520" stop-color="#35456c"/><stop offset="0.560" stop-color="#35456c"/><stop offset="0.600" stop-color="#34456c"/><stop offset="0.640" stop-color="#31436d"/><stop offset="0.680" stop-color="#2b406d"/><stop offset="0.720" stop-color="#243c6e"/><stop offset="0.760" stop-color="#1e3a6f"/><stop offset="0.800" stop-color="#1a386f"/><stop offset="0.840" stop-color="#163770"/><stop offset="0.880" stop-color="#163770"/><stop offset="0.920" stop-color="#18376f"/><stop offset="0.960" stop-color="#1c396f"/><stop offset="1.000" stop-color="#203a6f"/></linearGradient><linearGradient id="g22" x1="0" x2="1" y1="0" y2="0"><stop offset="0.000" stop-color="#00306f"/><stop offset="0.040" stop-color="#002f6d"/><stop offset="0.080" stop-color="#002e6c"/><stop offset="0.120" stop-color="#002e6a"/><stop offset="0.160" stop-color="#002d68"/><stop offset="0.200" stop-color="#002e6a"/><stop offset="0.240" stop-color="#00306f"/><stop offset="0.280" stop-color="#013271"/><stop offset="0.320" stop-color="#163770"/><stop offset="0.360" stop-color="#213b6e"/><stop offset="0.400" stop-color="#2a3f6d"/><stop offset="0.440" stop-color="#31436d"/><stop offset="0.480" stop-color="#34456c"/><stop offset="0.520" stop-color="#36466c"/><stop offset="0.560" stop-color="#36466c"/><stop offset="0.600" stop-color="#34456c"/><stop offset="0.640" stop-color="#31436d"/><stop offset="0.680" stop-color="#2b406d"/><stop offset="0.720" stop-color="#243c6e"/><stop offset="0.760" stop-color="#203a6f"/><stop offset="0.800" stop-color="#1a386f"/><stop offset="0.840" stop-color="#1a386f"/><stop offset="0.880" stop-color="#1a386f"/><stop offset="0.920" stop-color="#1c396f"/><stop offset="0.960" stop-color="#203a6f"/><stop offset="1.000" stop-color="#233c6e"/></linearGradient><linearGradient id="g23" x1="0" x2="1" y1="0" y2="0"><stop offset="0.000" stop-color="#003170"/><stop offset="0.040" stop-color="#003070"/><stop offset="0.080" stop-color="#00306f"/><stop offset="0.120" stop-color="#002f6d"/><stop offset="0.160" stop-color="#002f6d"/><stop offset="0.200" stop-color="#00306f"/><stop offset="0.240" stop-color="#003171"/><stop offset="0.280" stop-color="#0c3470"/><stop offset="0.320" stop-color="#1a386f"/><stop offset="0.360" stop-color="#263d6e"/><stop offset="0.400" stop-color="#2d416d"/><stop offset="0.440" stop-color="#32436d"/><stop offset="0.480" stop-color="#35456c"/><stop offset="0.520" stop-color="#38476c"/><stop offset="0.560" stop-color="#38476c"/><stop offset="0.600" stop-color="#35456c"/><stop offset="0.640" stop-color="#32436d"/><stop offset="0.680" stop-color="#2d416d"/><stop offset="0.720" stop-color="#263d6e"/><stop offset="0.760" stop-color="#213b6e"/><stop offset="0.800" stop-color="#1e3a6f"/><stop offset="0.840" stop-color="#1c396f"/><stop offset="0.880" stop-color="#1e3a6f"/><stop offset="0.920" stop-color="#203a6f"/><stop offset="0.960" stop-color="#233c6e"/><stop offset="1.000" stop-color="#263d6e"/></linearGradient><linearGradient id="g24" x1="0" x2="1" y1="0" y2="0"><stop offset="0.000" stop-color="#013271"/><stop offset="0.040" stop-color="#003171"/><stop offset="0.080" stop-color="#003170"/><stop offset="0.120" stop-color="#003170"/><stop offset="0.160" stop-color="#003170"/><stop offset="0.200" stop-color="#013271"/><stop offset="0.240" stop-color="#083370"/><stop offset="0.280" stop-color="#163770"/><stop offset="0.320" stop-color="#213b6e"/><stop offset="0.360" stop-color="#2a3f6d"/><stop offset="0.400" stop-color="#31436d"/><stop offset="0.440" stop-color="#35456c"/><stop offset="0.480" stop-color="#38476c"/><stop offset="0.520" stop-color="#39486c"/><stop offset="0.560" stop-color="#3a486c"/><stop offset="0.600" stop-color="#38476c"/><stop offset="0.640" stop-color="#34456c"/><stop offset="0.680" stop-color="#2f426d"/><stop offset="0.720" stop-color="#293f6e"/><stop offset="0.760" stop-color="#243c6e"/><stop offset="0.800" stop-color="#213b6e"/><stop offset="0.840" stop-color="#213b6e"/><stop offset="0.880" stop-color="#213b6e"/><stop offset="0.920" stop-color="#243c6e"/><stop offset="0.960" stop-color="#263d6e"/><stop offset="1.000" stop-color="#293f6e"/></linearGradient><linearGradient id="g25" x1="0" x2="1" y1="0" y2="0"><stop offset="0.000" stop-color="#0c3470"/><stop offset="0.040" stop-color="#083370"/><stop offset="0.080" stop-color="#053371"/><stop offset="0.120" stop-color="#053371"/><stop offset="0.160" stop-color="#083370"/><stop offset="0.200" stop-color="#0f3570"/><stop offset="0.240" stop-color="#163770"/><stop offset="0.280" stop-color="#203a6f"/><stop offset="0.320" stop-color="#273e6e"/><stop offset="0.360" stop-color="#2f426d"/><stop offset="0.400" stop-color="#34456c"/><stop offset="0.440" stop-color="#39486c"/><stop offset="0.480" stop-color="#3b496c"/><stop offset="0.520" stop-color="#3c4a6c"/><stop offset="0.560" stop-color="#3c4a6c"/><stop offset="0.600" stop-color="#3b496c"/><stop offset="0.640" stop-color="#38476c"/><stop offset="0.680" stop-color="#33446d"/><stop offset="0.720" stop-color="#2d416d"/><stop offset="0.760" stop-color="#293f6e"/><stop offset="0.800" stop-color="#263d6e"/><stop offset="0.840" stop-color="#243c6e"/><stop offset="0.880" stop-color="#263d6e"/><stop offset="0.920" stop-color="#273e6e"/><stop offset="0.960" stop-color="#2a3f6d"/><stop offset="1.000" stop-color="#2b406d"/></linearGradient><linearGradient id="g26" x1="0" x2="1" y1="0" y2="0"><stop offset="0.000" stop-color="#143670"/><stop offset="0.040" stop-color="#123570"/><stop offset="0.080" stop-color="#0f3570"/><stop offset="0.120" stop-color="#123570"/><stop offset="0.160" stop-color="#143670"/><stop offset="0.200" stop-color="#1a386f"/><stop offset="0.240" stop-color="#213b6e"/><stop offset="0.280" stop-color="#273e6e"/><stop offset="0.320" stop-color="#2e416d"/><stop offset="0.360" stop-color="#34456c"/><stop offset="0.400" stop-color="#39486c"/><stop offset="0.440" stop-color="#3c4a6c"/><stop offset="0.480" stop-color="#3e4b6c"/><stop offset="0.520" stop-color="#3f4c6c"/><stop offset="0.560" stop-color="#404c6c"/><stop offset="0.600" stop-color="#3e4b6c"/><stop offset="0.640" stop-color="#3c4a6c"/><stop offset="0.680" stop-color="#36466c"/><stop offset="0.720" stop-color="#32436d"/><stop offset="0.760" stop-color="#2d416d"/><stop offset="0.800" stop-color="#2a3f6d"/><stop offset="0.840" stop-color="#293f6e"/><stop offset="0.880" stop-color="#2a3f6d"/><stop offset="0.920" stop-color="#2b406d"/><stop offset="0.960" stop-color="#2d416d"/><stop offset="1.000" stop-color="#2e416d"/></linearGradient><linearGradient id="g27" x1="0" x2="1" y1="0" y2="0"><stop offset="0.000" stop-color="#1c396f"/><stop offset="0.040" stop-color="#18376f"/><stop offset="0.080" stop-color="#163770"/><stop offset="0.120" stop-color="#1a386f"/><stop offset="0.160" stop-color="#1e3a6f"/><stop offset="0.200" stop-color="#233c6e"/><stop offset="0.240" stop-color="#2a3f6d"/><stop offset="0.280" stop-color="#2f426d"/><stop offset="0.320" stop-color="#35456c"/><stop offset="0.360" stop-color="#3b496c"/><stop offset="0.400" stop-color="#3e4b6c"/><stop offset="0.440" stop-color="#414d6c"/><stop offset="0.480" stop-color="#424e6c"/><stop offset="0.520" stop-color="#444f6c"/><stop offset="0.560" stop-color="#444f6c"/><stop offset="0.600" stop-color="#434e6c"/><stop offset="0.640" stop-color="#404c6c"/><stop offset="0.680" stop-color="#3c4a6c"/><stop offset="0.720" stop-color="#36466c"/><stop offset="0.760" stop-color="#32436d"/><stop offset="0.800" stop-color="#2f426d"/><stop offset="0.840" stop-color="#2e416d"/><stop offset="0.880" stop-color="#2e416d"/><stop offset="0.920" stop-color="#2e416d"/><stop offset="0.960" stop-color="#2f426d"/><stop offset="1.000" stop-color="#31436d"/></linearGradient><linearGradient id="g28" x1="0" x2="1" y1="0" y2="0"><stop offset="0.000" stop-color="#213b6e"/><stop offset="0.040" stop-color="#1e3a6f"/><stop offset="0.080" stop-color="#1e3a6f"/><stop offset="0.120" stop-color="#213b6e"/><stop offset="0.160" stop-color="#263d6e"/><stop offset="0.200" stop-color="#2b406d"/><stop offset="0.240" stop-color="#32436d"/><stop offset="0.280" stop-color="#38476c"/><stop offset="0.320" stop-color="#3d4a6c"/><stop offset="0.360" stop-color="#414d6c"/><stop offset="0.400" stop-color="#444f6c"/><stop offset="0.440" stop-color="#46516c"/><stop offset="0.480" stop-color="#47516c"/><stop offset="0.520" stop-color="#49536c"/><stop offset="0.560" stop-color="#4a536c"/><stop offset="0.600" stop-color="#49536c"/><stop offset="0.640" stop-color="#46516c"/><stop offset="0.680" stop-color="#424e6c"/><stop offset="0.720" stop-color="#3d4a6c"/><stop offset="0.760" stop-color="#38476c"/><stop offset="0.800" stop-color="#34456c"/><stop offset="0.840" stop-color="#32436d"/><stop offset="0.880" stop-color="#32436d"/><stop offset="0.920" stop-color="#32436d"/><stop offset="0.960" stop-color="#32436d"/><stop offset="1.000" stop-color="#33446d"/></linearGradient><linearGradient id="g29" x1="0" x2="1" y1="0" y2="0"><stop offset="0.000" stop-color="#273e6e"/><stop offset="0.040" stop-color="#243c6e"/><stop offset="0.080" stop-color="#243c6e"/><stop offset="0.120" stop-color="#273e6e"/><stop offset="0.160" stop-color="#2e416d"/><stop offset="0.200" stop-color="#34456c"/><stop offset="0.240" stop-color="#3a486c"/><stop offset="0.280" stop-color="#3f4c6c"/><stop offset="0.320" stop-color="#444f6c"/><stop offset="0.360" stop-color="#47516c"/><stop offset="0.400" stop-color="#4a536c"/><stop offset="0.440" stop-color="#4c556c"/><stop offset="0.480" stop-color="#4e566c"/><stop offset="0.520" stop-color="#4f576c"/><stop offset="0.560" stop-color="#50576c"/><stop offset="0.600" stop-color="#50576c"/><stop offset="0.640" stop-color="#4d556c"/><stop offset="0.680" stop-color="#48526c"/><stop offset="0.720" stop-color="#434e6c"/><stop offset="0.760" stop-color="#3e4b6c"/><stop offset="0.800" stop-color="#3a486c"/><stop offset="0.840" stop-color="#36466c"/><stop offset="0.880" stop-color="#35456c"/><stop offset="0.920" stop-color="#35456c"/><stop offset="0.960" stop-color="#35456c"/><stop offset="1.000" stop-color="#35456c"/></linearGradient><linearGradient id="g30" x1="0" x2="1" y1="0" y2="0"><stop offset="0.000" stop-color="#2e416d"/><stop offset="0.040" stop-color="#293f6e"/><stop offset="0.080" stop-color="#2a3f6d"/><stop offset="0.120" stop-color="#2e416d"/><stop offset="0.160" stop-color="#34456c"/><stop offset="0.200" stop-color="#3b496c"/><stop offset="0.240" stop-color="#414d6c"/><stop offset="0.280" stop-color="#47516c"/><stop offset="0.320" stop-color="#4b546c"/><stop offset="0.360" stop-color="#4f576c"/><stop offset="0.400" stop-color="#52596d"/><stop offset="0.440" stop-color="#535a6d"/><stop offset="0.480" stop-color="#555b6d"/><stop offset="0.520" stop-color="#565c6d"/><stop offset="0.560" stop-color="#575d6d"/><stop offset="0.600" stop-color="#575d6d"/><stop offset="0.640" stop-color="#555b6d"/><stop offset="0.680" stop-color="#50576c"/><stop offset="0.720" stop-color="#4a536c"/><stop offset="0.760" stop-color="#444f6c"/><stop offset="0.800" stop-color="#3f4c6c"/><stop offset="0.840" stop-color="#3c4a6c"/><stop offset="0.880" stop-color="#3a486c"/><stop offset="0.920" stop-color="#39486c"/><stop offset="0.960" stop-color="#38476c"/><stop offset="1.000" stop-color="#39486c"/></linearGradient><linearGradient id="g31" x1="0" x2="1" y1="0" y2="0"><stop offset="0.000" stop-color="#33446d"/><stop offset="0.040" stop-color="#2f426d"/><stop offset="0.080" stop-color="#2f426d"/><stop offset="0.120" stop-color="#34456c"/><stop offset="0.160" stop-color="#3b496c"/><stop offset="0.200" stop-color="#424e6c"/><stop offset="0.240" stop-color="#49536c"/><stop offset="0.280" stop-color="#4f576c"/><stop offset="0.320" stop-color="#535a6d"/><stop offset="0.360" stop-color="#565c6d"/><stop offset="0.400" stop-color="#595e6e"/><stop offset="0.440" stop-color="#5b606e"/><stop offset="0.480" stop-color="#5d616e"/><stop offset="0.520" stop-color="#5e636f"/><stop offset="0.560" stop-color="#5f636f"/><stop offset="0.600" stop-color="#5f636f"/><stop offset="0.640" stop-color="#5d616e"/><stop offset="0.680" stop-color="#575d6d"/><stop offset="0.720" stop-color="#51586d"/><stop offset="0.760" stop-color="#4a536c"/><stop offset="0.800" stop-color="#444f6c"/><stop offset="0.840" stop-color="#404c6c"/><stop offset="0.880" stop-color="#3d4a6c"/><stop offset="0.920" stop-color="#3c4a6c"/><stop offset="0.960" stop-color="#3b496c"/><stop offset="1.000" stop-color="#3b496c"/></linearGradient><linearGradient id="g32" x1="0" x2="1" y1="0" y2="0"><stop offset="0.000" stop-color="#39486c"/><stop offset="0.040" stop-color="#34456c"/><stop offset="0.080" stop-color="#35456c"/><stop offset="0.120" stop-color="#3a486c"/><stop offset="0.160" stop-color="#414d6c"/><stop offset="0.200" stop-color="#49536c"/><stop offset="0.240" stop-color="#50576c"/><stop offset="0.280" stop-color="#565c6d"/><stop offset="0.320" stop-color="#5b606e"/><stop offset="0.360" stop-color="#5e636f"/><stop offset="0.400" stop-color="#61656f"/><stop offset="0.440" stop-color="#636670"/><stop offset="0.480" stop-color="#656870"/><stop offset="0.520" stop-color="#676a71"/><stop offset="0.560" stop-color="#696b71"/><stop offset="0.600" stop-color="#686a71"/><stop offset="0.640" stop-color="#656870"/><stop offset="0.680" stop-color="#5f636f"/><stop offset="0.720" stop-color="#585e6d"/><stop offset="0.760" stop-color="#51586d"/><stop offset="0.800" stop-color="#4a536c"/><stop offset="0.840" stop-color="#45506c"/><stop offset="0.880" stop-color="#414d6c"/><stop offset="0.920" stop-color="#3f4c6c"/><stop offset="0.960" stop-color="#3d4a6c"/><stop offset="1.000" stop-color="#3d4a6c"/></linearGradient><linearGradient id="g33" x1="0" x2="1" y1="0" y2="0"><stop offset="0.000" stop-color="#3d4a6c"/><stop offset="0.040" stop-color="#3a486c"/><stop offset="0.080" stop-color="#3b496c"/><stop offset="0.120" stop-color="#404c6c"/><stop offset="0.160" stop-color="#47516c"/><stop offset="0.200" stop-color="#4f576c"/><stop offset="0.240" stop-color="#575d6d"/><stop offset="0.280" stop-color="#5e626e"/><stop offset="0.320" stop-color="#636670"/><stop offset="0.360" stop-color="#676a71"/><stop offset="0.400" stop-color="#6a6c71"/><stop offset="0.440" stop-color="#6c6e72"/><stop offset="0.480" stop-color="#6e6f73"/><stop offset="0.520" stop-color="#717274"/><stop offset="0.560" stop-color="#727374"/><stop offset="0.600" stop-color="#727274"/><stop offset="0.640" stop-color="#6e6f73"/><stop offset="0.680" stop-color="#676a71"/><stop offset="0.720" stop-color="#5f636f"/><stop offset="0.760" stop-color="#575d6d"/><stop offset="0.800" stop-color="#50576c"/><stop offset="0.840" stop-color="#49536c"/><stop offset="0.880" stop-color="#45506c"/><stop offset="0.920" stop-color="#424e6c"/><stop offset="0.960" stop-color="#404c6c"/><stop offset="1.000" stop-color="#404c6c"/></linearGradient><linearGradient id="g34" x1="0" x2="1" y1="0" y2="0"><stop offset="0.000" stop-color="#424e6c"/><stop offset="0.040" stop-color="#3e4b6c"/><stop offset="0.080" stop-color="#404c6c"/><stop offset="0.120" stop-color="#45506c"/><stop offset="0.160" stop-color="#4d556c"/><stop offset="0.200" stop-color="#555c6d"/><stop offset="0.240" stop-color="#5e626e"/><stop offset="0.280" stop-color="#656870"/><stop offset="0.320" stop-color="#6b6d72"/><stop offset="0.360" stop-color="#707173"/><stop offset="0.400" stop-color="#737475"/><stop offset="0.440" stop-color="#777776"/><stop offset="0.480" stop-color="#787877"/><stop offset="0.520" stop-color="#7b7a78"/><stop offset="0.560" stop-color="#7d7c78"/><stop offset="0.600" stop-color="#7c7b78"/><stop offset="0.640" stop-color="#777777"/><stop offset="0.680" stop-color="#707173"/><stop offset="0.720" stop-color="#666970"/><stop offset="0.760" stop-color="#5e626e"/><stop offset="0.800" stop-color="#555b6d"/><stop offset="0.840" stop-color="#4e566c"/><stop offset="0.880" stop-color="#48526c"/><stop offset="0.920" stop-color="#45506c"/><stop offset="0.960" stop-color="#434e6c"/><stop offset="1.000" stop-color="#434e6c"/></linearGradient><linearGradient id="g35" x1="0" x2="1" y1="0" y2="0"><stop offset="0.000" stop-color="#47516c"/><stop offset="0.040" stop-color="#434e6c"/><stop offset="0.080" stop-color="#45506c"/><stop offset="0.120" stop-color="#4a536c"/><stop offset="0.160" stop-color="#52596d"/><stop offset="0.200" stop-color="#5b606e"/><stop offset="0.240" stop-color="#646770"/><stop offset="0.280" stop-color="#6c6e72"/><stop offset="0.320" stop-color="#737475"/><stop offset="0.360" stop-color="#797977"/><stop offset="0.400" stop-color="#7e7c78"/><stop offset="0.440" stop-color="#817f78"/><stop offset="0.480" stop-color="#848279"/><stop offset="0.520" stop-color="#878478"/><stop offset="0.560" stop-color="#898578"/><stop offset="0.600" stop-color="#878478"/><stop offset="0.640" stop-color="#817f78"/><stop offset="0.680" stop-color="#787877"/><stop offset="0.720" stop-color="#6e6f73"/><stop offset="0.760" stop-color="#646770"/><stop offset="0.800" stop-color="#5a5f6e"/><stop offset="0.840" stop-color="#52596d"/><stop offset="0.880" stop-color="#4c556c"/><stop offset="0.920" stop-color="#48526c"/><stop offset="0.960" stop-color="#46516c"/><stop offset="1.000" stop-color="#45506c"/></linearGradient><linearGradient id="g36" x1="0" x2="1" y1="0" y2="0"><stop offset="0.000" stop-color="#4b546c"/><stop offset="0.040" stop-color="#48526c"/><stop offset="0.080" stop-color="#4a536c"/><stop offset="0.120" stop-color="#50576c"/><stop offset="0.160" stop-color="#575d6d"/><stop offset="0.200" stop-color="#60646f"/><stop offset="0.240" stop-color="#6a6c71"/><stop offset="0.280" stop-color="#737475"/><stop offset="0.320" stop-color="#7c7b78"/><stop offset="0.360" stop-color="#838179"/><stop offset="0.400" stop-color="#8a8678"/><stop offset="0.440" stop-color="#8e8978"/><stop offset="0.480" stop-color="#928c78"/><stop offset="0.520" stop-color="#948e77"/><stop offset="0.560" stop-color="#969077"/><stop offset="0.600" stop-color="#938e78"/><stop offset="0.640" stop-color="#8d8878"/><stop offset="0.680" stop-color="#817f78"/><stop offset="0.720" stop-color="#757575"/><stop offset="0.760" stop-color="#696b71"/><stop offset="0.800" stop-color="#5e636f"/><stop offset="0.840" stop-color="#555c6d"/><stop offset="0.880" stop-color="#4f576c"/><stop offset="0.920" stop-color="#4b546c"/><stop offset="0.960" stop-color="#49536c"/><stop offset="1.000" stop-color="#48526c"/></linearGradient><linearGradient id="g37" x1="0" x2="1" y1="0" y2="0"><stop offset="0.000" stop-color="#50576c"/><stop offset="0.040" stop-color="#4e566c"/><stop offset="0.080" stop-color="#50576c"/><stop offset="0.120" stop-color="#555b6d"/><stop offset="0.160" stop-color="#5c616e"/><stop offset="0.200" stop-color="#656870"/><stop offset="0.240" stop-color="#6f7073"/><stop offset="0.280" stop-color="#797977"/><stop offset="0.320" stop-color="#848279"/><stop offset="0.360" stop-color="#8f8a78"/><stop offset="0.400" stop-color="#969077"/><stop offset="0.440" stop-color="#9b9476"/><stop offset="0.480" stop-color="#9f9775"/><stop offset="0.520" stop-color="#a29975"/><stop offset="0.560" stop-color="#a39a74"/><stop offset="0.600" stop-color="#a09875"/><stop offset="0.640" stop-color="#979177"/><stop offset="0.680" stop-color="#8b8778"/><stop offset="0.720" stop-color="#7c7b78"/><stop offset="0.760" stop-color="#6f7073"/><stop offset="0.800" stop-color="#636670"/><stop offset="0.840" stop-color="#595e6e"/><stop offset="0.880" stop-color="#535a6d"/><stop offset="0.920" stop-color="#4e566c"/><stop offset="0.960" stop-color="#4c556c"/><stop offset="1.000" stop-color="#4b546c"/></linearGradient><linearGradient id="g38" x1="0" x2="1" y1="0" y2="0"><stop offset="0.000" stop-color="#545a6d"/><stop offset="0.040" stop-color="#535a6d"/><stop offset="0.080" stop-color="#555b6d"/><stop offset="0.120" stop-color="#595e6e"/><stop offset="0.160" stop-color="#60646f"/><stop offset="0.200" stop-color="#696b71"/><stop offset="0.240" stop-color="#747475"/><stop offset="0.280" stop-color="#807f78"/><stop offset="0.320" stop-color="#8e8978"/><stop offset="0.360" stop-color="#999277"/><stop offset="0.400" stop-color="#a39a74"/><stop offset="0.440" stop-color="#a99f73"/><stop offset="0.480" stop-color="#aca172"/><stop offset="0.520" stop-color="#afa471"/><stop offset="0.560" stop-color="#b0a571"/><stop offset="0.600" stop-color="#aca172"/><stop offset="0.640" stop-color="#a39a74"/><stop offset="0.680" stop-color="#938e78"/><stop offset="0.720" stop-color="#838179"/><stop offset="0.760" stop-color="#737475"/><stop offset="0.800" stop-color="#666970"/><stop offset="0.840" stop-color="#5d616e"/><stop offset="0.880" stop-color="#555c6d"/><stop offset="0.920" stop-color="#51586d"/><stop offset="0.960" stop-color="#4f576c"/><stop offset="1.000" stop-color="#4f576c"/></linearGradient><linearGradient id="g39" x1="0" x2="1" y1="0" y2="0"><stop offset="0.000" stop-color="#585e6d"/><stop offset="0.040" stop-color="#575d6d"/><stop offset="0.080" stop-color="#5a5f6e"/><stop offset="0.120" stop-color="#5e626e"/><stop offset="0.160" stop-color="#656870"/><stop offset="0.200" stop-color="#6d6f72"/><stop offset="0.240" stop-color="#787877"/><stop offset="0.280" stop-color="#878478"/><stop offset="0.320" stop-color="#969077"/><stop offset="0.360" stop-color="#a59c74"/><stop offset="0.400" stop-color="#b0a571"/><stop offset="0.440" stop-color="#b7a96e"/><stop offset="0.480" stop-color="#bbad6d"/><stop offset="0.520" stop-color="#beaf6b"/><stop offset="0.560" stop-color="#beaf6b"/><stop offset="0.600" stop-color="#b9ab6d"/><stop offset="0.640" stop-color="#ada272"/><stop offset="0.680" stop-color="#9c9576"/><stop offset="0.720" stop-color="#8a8678"/><stop offset="0.760" stop-color="#777777"/><stop offset="0.800" stop-color="#6a6c71"/><stop offset="0.840" stop-color="#5f636f"/><stop offset="0.880" stop-color="#585e6d"/><stop offset="0.920" stop-color="#545a6d"/><stop offset="0.960" stop-color="#52596d"/><stop offset="1.000" stop-color="#52596d"/></linearGradient><linearGradient id="g40" x1="0" x2="1" y1="0" y2="0"><stop offset="0.000" stop-color="#5c616e"/><stop offset="0.040" stop-color="#5d616e"/><stop offset="0.080" stop-color="#5e636f"/><stop offset="0.120" stop-color="#62656f"/><stop offset="0.160" stop-color="#686a71"/><stop offset="0.200" stop-color="#717274"/><stop offset="0.240" stop-color="#7d7c78"/><stop offset="0.280" stop-color="#8d8878"/><stop offset="0.320" stop-color="#9f9775"/><stop offset="0.360" stop-color="#b0a571"/><stop offset="0.400" stop-color="#bdae6c"/><stop offset="0.440" stop-color="#c4b468"/><stop offset="0.480" stop-color="#c8b866"/><stop offset="0.520" stop-color="#cbb965"/><stop offset="0.560" stop-color="#cbb965"/><stop offset="0.600" stop-color="#c4b468"/><stop offset="0.640" stop-color="#b8aa6e"/><stop offset="0.680" stop-color="#a49b74"/><stop offset="0.720" stop-color="#908b78"/><stop offset="0.760" stop-color="#7c7b78"/><stop offset="0.800" stop-color="#6d6f72"/><stop offset="0.840" stop-color="#62656f"/><stop offset="0.880" stop-color="#5b606e"/><stop offset="0.920" stop-color="#565c6d"/><stop offset="0.960" stop-color="#555b6d"/><stop offset="1.000" stop-color="#555b6d"/></linearGradient><linearGradient id="g41" x1="0" x2="1" y1="0" y2="0"><stop offset="0.000" stop-color="#5e636f"/><stop offset="0.040" stop-color="#61656f"/><stop offset="0.080" stop-color="#636670"/><stop offset="0.120" stop-color="#666970"/><stop offset="0.160" stop-color="#6c6d72"/><stop offset="0.200" stop-color="#747475"/><stop offset="0.240" stop-color="#807f78"/><stop offset="0.280" stop-color="#928d78"/><stop offset="0.320" stop-color="#a79d73"/><stop offset="0.360" stop-color="#bbad6d"/><stop offset="0.400" stop-color="#c9b965"/><stop offset="0.440" stop-color="#d2c060"/><stop offset="0.480" stop-color="#d5c25e"/><stop offset="0.520" stop-color="#d7c45c"/><stop offset="0.560" stop-color="#d6c35d"/><stop offset="0.600" stop-color="#cfbd62"/><stop offset="0.640" stop-color="#c1b26a"/><stop offset="0.680" stop-color="#aba072"/><stop offset="0.720" stop-color="#948e77"/><stop offset="0.760" stop-color="#7f7e78"/><stop offset="0.800" stop-color="#6f7073"/><stop offset="0.840" stop-color="#646770"/><stop offset="0.880" stop-color="#5d616e"/><stop offset="0.920" stop-color="#585e6d"/><stop offset="0.960" stop-color="#575d6d"/><stop offset="1.000" stop-color="#565c6d"/></linearGradient><linearGradient id="g42" x1="0" x2="1" y1="0" y2="0"><stop offset="0.000" stop-color="#62656f"/><stop offset="0.040" stop-color="#656870"/><stop offset="0.080" stop-color="#676a71"/><stop offset="0.120" stop-color="#6a6c71"/><stop offset="0.160" stop-color="#6f7073"/><stop offset="0.200" stop-color="#777777"/><stop offset="0.240" stop-color="#848279"/><stop offset="0.280" stop-color="#989277"/><stop offset="0.320" stop-color="#afa471"/><stop offset="0.360" stop-color="#c5b568"/><stop offset="0.400" stop-color="#d5c25e"/><stop offset="0.440" stop-color="#dec958"/><stop offset="0.480" stop-color="#e1cc55"/><stop offset="0.520" stop-color="#e2cd54"/><stop offset="0.560" stop-color="#e0cb56"/><stop offset="0.600" stop-color="#d9c55c"/><stop offset="0.640" stop-color="#c8b866"/><stop offset="0.680" stop-color="#b1a570"/><stop offset="0.720" stop-color="#989277"/><stop offset="0.760" stop-color="#828079"/><stop offset="0.800" stop-color="#727274"/><stop offset="0.840" stop-color="#656870"/><stop offset="0.880" stop-color="#5e636f"/><stop offset="0.920" stop-color="#5b606e"/><stop offset="0.960" stop-color="#595e6e"/><stop offset="1.000" stop-color="#595e6e"/></linearGradient><linearGradient id="g43" x1="0" x2="1" y1="0" y2="0"><stop offset="0.000" stop-color="#656870"/><stop offset="0.040" stop-color="#696b71"/><stop offset="0.080" stop-color="#6c6d72"/><stop offset="0.120" stop-color="#6d6f72"/><stop offset="0.160" stop-color="#727274"/><stop offset="0.200" stop-color="#7a7a78"/><stop offset="0.240" stop-color="#888578"/><stop offset="0.280" stop-color="#9c9576"/><stop offset="0.320" stop-color="#b6a96f"/><stop offset="0.360" stop-color="#cebc63"/><stop offset="0.400" stop-color="#dfca57"/><stop offset="0.440" stop-color="#e8d24f"/><stop offset="0.480" stop-color="#ebd44b"/><stop offset="0.520" stop-color="#ebd44b"/><stop offset="0.560" stop-color="#e9d34e"/><stop offset="0.600" stop-color="#e0cb56"/><stop offset="0.640" stop-color="#cfbd62"/><stop offset="0.680" stop-color="#b7a96e"/><stop offset="0.720" stop-color="#9c9576"/><stop offset="0.760" stop-color="#848279"/><stop offset="0.800" stop-color="#727374"/><stop offset="0.840" stop-color="#666970"/><stop offset="0.880" stop-color="#5f636f"/><stop offset="0.920" stop-color="#5c616e"/><stop offset="0.960" stop-color="#5b606e"/><stop offset="1.000" stop-color="#5b606e"/></linearGradient><linearGradient id="g44" x1="0" x2="1" y1="0" y2="0"><stop offset="0.000" stop-color="#676a71"/><stop offset="0.040" stop-color="#6c6e72"/><stop offset="0.080" stop-color="#6f7073"/><stop offset="0.120" stop-color="#717274"/><stop offset="0.160" stop-color="#747475"/><stop offset="0.200" stop-color="#7c7b78"/><stop offset="0.240" stop-color="#8b8778"/><stop offset="0.280" stop-color="#a09875"/><stop offset="0.320" stop-color="#bcae6c"/><stop offset="0.360" stop-color="#d6c35d"/><stop offset="0.400" stop-color="#e8d24f"/><stop offset="0.440" stop-color="#f1d945"/><stop offset="0.480" stop-color="#f3db42"/><stop offset="0.520" stop-color="#f3db42"/><stop offset="0.560" stop-color="#f0d846"/><stop offset="0.600" stop-color="#e7d150"/><stop offset="0.640" stop-color="#d4c15f"/><stop offset="0.680" stop-color="#bbad6d"/><stop offset="0.720" stop-color="#9e9676"/><stop offset="0.760" stop-color="#858279"/><stop offset="0.800" stop-color="#737475"/><stop offset="0.840" stop-color="#676a71"/><stop offset="0.880" stop-color="#60646f"/><stop offset="0.920" stop-color="#5e626e"/><stop offset="0.960" stop-color="#5d616e"/><stop offset="1.000" stop-color="#5d616e"/></linearGradient><linearGradient id="g45" x1="0" x2="1" y1="0" y2="0"><stop offset="0.000" stop-color="#696b71"/><stop offset="0.040" stop-color="#6f7073"/><stop offset="0.080" stop-color="#727274"/><stop offset="0.120" stop-color="#737475"/><stop offset="0.160" stop-color="#777776"/><stop offset="0.200" stop-color="#7e7c78"/><stop offset="0.240" stop-color="#8d8878"/><stop offset="0.280" stop-color="#a39a74"/><stop offset="0.320" stop-color="#c0b16a"/><stop offset="0.360" stop-color="#dcc859"/><stop offset="0.400" stop-color="#f0d846"/><stop offset="0.440" stop-color="#f9e03a"/><stop offset="0.480" stop-color="#fbe138"/><stop offset="0.520" stop-color="#f9e03a"/><stop offset="0.560" stop-color="#f6dd3f"/><stop offset="0.600" stop-color="#edd54a"/><stop offset="0.640" stop-color="#d9c55c"/><stop offset="0.680" stop-color="#bdae6c"/><stop offset="0.720" stop-color="#9f9775"/><stop offset="0.760" stop-color="#868379"/><stop offset="0.800" stop-color="#737475"/><stop offset="0.840" stop-color="#676a71"/><stop offset="0.880" stop-color="#61656f"/><stop offset="0.920" stop-color="#5e626e"/><stop offset="0.960" stop-color="#5e626e"/><stop offset="1.000" stop-color="#5e626e"/></linearGradient><linearGradient id="g46" x1="0" x2="1" y1="0" y2="0"><stop offset="0.000" stop-color="#6b6d72"/><stop offset="0.040" stop-color="#727274"/><stop offset="0.080" stop-color="#747475"/><stop offset="0.120" stop-color="#757575"/><stop offset="0.160" stop-color="#787877"/><stop offset="0.200" stop-color="#7f7e78"/><stop offset="0.240" stop-color="#8e8978"/><stop offset="0.280" stop-color="#a69c74"/><stop offset="0.320" stop-color="#c3b369"/><stop offset="0.360" stop-color="#e0cb56"/><stop offset="0.400" stop-color="#f5dc41"/><stop offset="0.440" stop-color="#fee434"/><stop offset="0.480" stop-color="#fee535"/><stop offset="0.520" stop-color="#fde334"/><stop offset="0.560" stop-color="#f9e03a"/><stop offset="0.600" stop-color="#efd748"/><stop offset="0.640" stop-color="#dbc75a"/><stop offset="0.680" stop-color="#beaf6b"/><stop offset="0.720" stop-color="#9f9775"/><stop offset="0.760" stop-color="#858279"/><stop offset="0.800" stop-color="#727374"/><stop offset="0.840" stop-color="#676a71"/><stop offset="0.880" stop-color="#60646f"/><stop offset="0.920" stop-color="#5e636f"/><stop offset="0.960" stop-color="#5e626e"/><stop offset="1.000" stop-color="#5e626e"/></linearGradient><linearGradient id="g47" x1="0" x2="1" y1="0" y2="0"><stop offset="0.000" stop-color="#6c6e72"/><stop offset="0.040" stop-color="#737475"/><stop offset="0.080" stop-color="#767676"/><stop offset="0.120" stop-color="#777776"/><stop offset="0.160" stop-color="#797977"/><stop offset="0.200" stop-color="#807f78"/><stop offset="0.240" stop-color="#8f8a78"/><stop offset="0.280" stop-color="#a79d73"/><stop offset="0.320" stop-color="#c5b568"/><stop offset="0.360" stop-color="#e4ce53"/><stop offset="0.400" stop-color="#f8df3c"/><stop offset="0.440" stop-color="#fee838"/><stop offset="0.480" stop-color="#fee838"/><stop offset="0.520" stop-color="#fee535"/><stop offset="0.560" stop-color="#fde334"/><stop offset="0.600" stop-color="#f1d945"/><stop offset="0.640" stop-color="#dcc859"/><stop offset="0.680" stop-color="#beaf6b"/><stop offset="0.720" stop-color="#9e9676"/><stop offset="0.760" stop-color="#848279"/><stop offset="0.800" stop-color="#727274"/><stop offset="0.840" stop-color="#666970"/><stop offset="0.880" stop-color="#60646f"/><stop offset="0.920" stop-color="#5e626e"/><stop offset="0.960" stop-color="#5e626e"/><stop offset="1.000" stop-color="#5e626e"/></linearGradient><linearGradient id="g48" x1="0" x2="1" y1="0" y2="0"><stop offset="0.000" stop-color="#6d6f72"/><stop offset="0.040" stop-color="#747475"/><stop offset="0.080" stop-color="#777776"/><stop offset="0.120" stop-color="#777777"/><stop offset="0.160" stop-color="#7a7a78"/><stop offset="0.200" stop-color="#817f78"/><stop offset="0.240" stop-color="#908b78"/><stop offset="0.280" stop-color="#a79d73"/><stop offset="0.320" stop-color="#c6b667"/><stop offset="0.360" stop-color="#e4ce53"/><stop offset="0.400" stop-color="#f9e03a"/><stop offset="0.440" stop-color="#fee838"/><stop offset="0.480" stop-color="#fee838"/><stop offset="0.520" stop-color="#fee838"/><stop offset="0.560" stop-color="#fde334"/><stop offset="0.600" stop-color="#f1d945"/><stop offset="0.640" stop-color="#dbc75a"/><stop offset="0.680" stop-color="#bdae6c"/><stop offset="0.720" stop-color="#9c9576"/><stop offset="0.760" stop-color="#828079"/><stop offset="0.800" stop-color="#707173"/><stop offset="0.840" stop-color="#656870"/><stop offset="0.880" stop-color="#5e636f"/><stop offset="0.920" stop-color="#5d616e"/><stop offset="0.960" stop-color="#5d616e"/><stop offset="1.000" stop-color="#5d616e"/></linearGradient><linearGradient id="g49" x1="0" x2="1" y1="0" y2="0"><stop offset="0.000" stop-color="#6d6f72"/><stop offset="0.040" stop-color="#757575"/><stop offset="0.080" stop-color="#777777"/><stop offset="0.120" stop-color="#787877"/><stop offset="0.160" stop-color="#7a7a78"/><stop offset="0.200" stop-color="#817f78"/><stop offset="0.240" stop-color="#908b78"/><stop offset="0.280" stop-color="#a79d73"/><stop offset="0.320" stop-color="#c5b568"/><stop offset="0.360" stop-color="#e2cd54"/><stop offset="0.400" stop-color="#f8df3c"/><stop offset="0.440" stop-color="#fee838"/><stop offset="0.480" stop-color="#fee838"/><stop offset="0.520" stop-color="#fee636"/><stop offset="0.560" stop-color="#fde334"/><stop offset="0.600" stop-color="#f0d846"/><stop offset="0.640" stop-color="#d9c55c"/><stop offset="0.680" stop-color="#baac6d"/><stop offset="0.720" stop-color="#9a9376"/><stop offset="0.760" stop-color="#7f7e78"/><stop offset="0.800" stop-color="#6d6f72"/><stop offset="0.840" stop-color="#636670"/><stop offset="0.880" stop-color="#5e626e"/><stop offset="0.920" stop-color="#5c616e"/><stop offset="0.960" stop-color="#5c616e"/><stop offset="1.000" stop-color="#5c616e"/></linearGradient><linearGradient id="g50" x1="0" x2="1" y1="0" y2="0"><stop offset="0.000" stop-color="#6d6f72"/><stop offset="0.040" stop-color="#747475"/><stop offset="0.080" stop-color="#777776"/><stop offset="0.120" stop-color="#777777"/><stop offset="0.160" stop-color="#7a7a78"/><stop offset="0.200" stop-color="#807f78"/><stop offset="0.240" stop-color="#8f8a78"/><stop offset="0.280" stop-color="#a59c74"/><stop offset="0.320" stop-color="#c3b369"/><stop offset="0.360" stop-color="#dfca57"/><stop offset="0.400" stop-color="#f3db42"/><stop offset="0.440" stop-color="#fee434"/><stop offset="0.480" stop-color="#fee636"/><stop offset="0.520" stop-color="#fee434"/><stop offset="0.560" stop-color="#f9e03a"/><stop offset="0.600" stop-color="#edd54a"/><stop offset="0.640" stop-color="#d5c25e"/><stop offset="0.680" stop-color="#b6a96f"/><stop offset="0.720" stop-color="#969077"/><stop offset="0.760" stop-color="#7c7b78"/><stop offset="0.800" stop-color="#6b6d72"/><stop offset="0.840" stop-color="#60646f"/><stop offset="0.880" stop-color="#5b606e"/><stop offset="0.920" stop-color="#5a5f6e"/><stop offset="0.960" stop-color="#5a5f6e"/><stop offset="1.000" stop-color="#595e6e"/></linearGradient><linearGradient id="g51" x1="0" x2="1" y1="0" y2="0"><stop offset="0.000" stop-color="#6c6e72"/><stop offset="0.040" stop-color="#737475"/><stop offset="0.080" stop-color="#767676"/><stop offset="0.120" stop-color="#777776"/><stop offset="0.160" stop-color="#797977"/><stop offset="0.200" stop-color="#7f7e78"/><stop offset="0.240" stop-color="#8e8978"/><stop offset="0.280" stop-color="#a39a74"/><stop offset="0.320" stop-color="#bfb06b"/><stop offset="0.360" stop-color="#dbc75a"/><stop offset="0.400" stop-color="#efd748"/><stop offset="0.440" stop-color="#f8df3c"/><stop offset="0.480" stop-color="#fbe138"/><stop offset="0.520" stop-color="#fbe138"/><stop offset="0.560" stop-color="#f5dc41"/><stop offset="0.600" stop-color="#e8d24f"/><stop offset="0.640" stop-color="#d0be62"/><stop offset="0.680" stop-color="#b1a570"/><stop offset="0.720" stop-color="#928d78"/><stop offset="0.760" stop-color="#787877"/><stop offset="0.800" stop-color="#686a71"/><stop offset="0.840" stop-color="#5e626e"/><stop offset="0.880" stop-color="#595e6e"/><stop offset="0.920" stop-color="#575d6d"/><stop offset="0.960" stop-color="#575d6d"/><stop offset="1.000" stop-color="#565c6d"/></linearGradient><linearGradient id="g52" x1="0" x2="1" y1="0" y2="0"><stop offset="0.000" stop-color="#6c6d72"/><stop offset="0.040" stop-color="#727274"/><stop offset="0.080" stop-color="#747475"/><stop offset="0.120" stop-color="#757575"/><stop offset="0.160" stop-color="#777777"/><stop offset="0.200" stop-color="#7e7d78"/><stop offset="0.240" stop-color="#8c8878"/><stop offset="0.280" stop-color="#a09875"/><stop offset="0.320" stop-color="#bbad6d"/><stop offset="0.360" stop-color="#d4c15f"/><stop offset="0.400" stop-color="#e7d150"/><stop offset="0.440" stop-color="#f1d945"/><stop offset="0.480" stop-color="#f3db42"/><stop offset="0.520" stop-color="#f3db42"/><stop offset="0.560" stop-color="#efd748"/><stop offset="0.600" stop-color="#e1cc55"/><stop offset="0.640" stop-color="#c9b965"/><stop offset="0.680" stop-color="#aba072"/><stop offset="0.720" stop-color="#8e8978"/><stop offset="0.760" stop-color="#757575"/><stop offset="0.800" stop-color="#656870"/><stop offset="0.840" stop-color="#5b606e"/><stop offset="0.880" stop-color="#565c6d"/><stop offset="0.920" stop-color="#555b6d"/><stop offset="0.960" stop-color="#555b6d"/><stop offset="1.000" stop-color="#545a6d"/></linearGradient><linearGradient id="g53" x1="0" x2="1" y1="0" y2="0"><stop offset="0.000" stop-color="#6a6c71"/><stop offset="0.040" stop-color="#707173"/><stop offset="0.080" stop-color="#727274"/><stop offset="0.120" stop-color="#737475"/><stop offset="0.160" stop-color="#767676"/><stop offset="0.200" stop-color="#7d7c78"/><stop offset="0.240" stop-color="#898578"/><stop offset="0.280" stop-color="#9c9576"/><stop offset="0.320" stop-color="#b5a86f"/><stop offset="0.360" stop-color="#ccba64"/><stop offset="0.400" stop-color="#dec958"/><stop offset="0.440" stop-color="#e8d24f"/><stop offset="0.480" stop-color="#ebd44b"/><stop offset="0.520" stop-color="#ebd44b"/><stop offset="0.560" stop-color="#e7d150"/><stop offset="0.600" stop-color="#dac65b"/><stop offset="0.640" stop-color="#c2b369"/><stop offset="0.680" stop-color="#a59c74"/><stop offset="0.720" stop-color="#888578"/><stop offset="0.760" stop-color="#717274"/><stop offset="0.800" stop-color="#61656f"/><stop offset="0.840" stop-color="#575d6d"/><stop offset="0.880" stop-color="#535a6d"/><stop offset="0.920" stop-color="#52596d"/><stop offset="0.960" stop-color="#51586d"/><stop offset="1.000" stop-color="#50576c"/></linearGradient><linearGradient id="g54" x1="0" x2="1" y1="0" y2="0"><stop offset="0.000" stop-color="#686a71"/><stop offset="0.040" stop-color="#6d6f72"/><stop offset="0.080" stop-color="#6f7073"/><stop offset="0.120" stop-color="#717274"/><stop offset="0.160" stop-color="#747475"/><stop offset="0.200" stop-color="#7a7a78"/><stop offset="0.240" stop-color="#868379"/><stop offset="0.280" stop-color="#979177"/><stop offset="0.320" stop-color="#ada272"/><stop offset="0.360" stop-color="#c3b369"/><stop offset="0.400" stop-color="#d3c05f"/><stop offset="0.440" stop-color="#ddc858"/><stop offset="0.480" stop-color="#e1cc55"/><stop offset="0.520" stop-color="#e1cc55"/><stop offset="0.560" stop-color="#ddc858"/><stop offset="0.600" stop-color="#d0be62"/><stop offset="0.640" stop-color="#baac6d"/><stop offset="0.680" stop-color="#9e9676"/><stop offset="0.720" stop-color="#828079"/><stop offset="0.760" stop-color="#6c6e72"/><stop offset="0.800" stop-color="#5e626e"/><stop offset="0.840" stop-color="#555b6d"/><stop offset="0.880" stop-color="#50576c"/><stop offset="0.920" stop-color="#4e566c"/><stop offset="0.960" stop-color="#4d556c"/><stop offset="1.000" stop-color="#4c556c"/></linearGradient><linearGradient id="g55" x1="0" x2="1" y1="0" y2="0"><stop offset="0.000" stop-color="#656870"/><stop offset="0.040" stop-color="#6a6c71"/><stop offset="0.080" stop-color="#6c6e72"/><stop offset="0.120" stop-color="#6e6f73"/><stop offset="0.160" stop-color="#727274"/><stop offset="0.200" stop-color="#777777"/><stop offset="0.240" stop-color="#828079"/><stop offset="0.280" stop-color="#928d78"/><stop offset="0.320" stop-color="#a69c74"/><stop offset="0.360" stop-color="#b9ab6d"/><stop offset="0.400" stop-color="#c8b866"/><stop offset="0.440" stop-color="#d1bf61"/><stop offset="0.480" stop-color="#d5c25e"/><stop offset="0.520" stop-color="#d6c35d"/><stop offset="0.560" stop-color="#d2c060"/><stop offset="0.600" stop-color="#c6b667"/><stop offset="0.640" stop-color="#b1a570"/><stop offset="0.680" stop-color="#969077"/><stop offset="0.720" stop-color="#7c7b78"/><stop offset="0.760" stop-color="#686a71"/><stop offset="0.800" stop-color="#5a5f6e"/><stop offset="0.840" stop-color="#51586d"/><stop offset="0.880" stop-color="#4c556c"/><stop offset="0.920" stop-color="#4a536c"/><stop offset="0.960" stop-color="#49536c"/><stop offset="1.000" stop-color="#48526c"/></linearGradient><linearGradient id="g56" x1="0" x2="1" y1="0" y2="0"><stop offset="0.000" stop-color="#636670"/><stop offset="0.040" stop-color="#666970"/><stop offset="0.080" stop-color="#696b71"/><stop offset="0.120" stop-color="#6b6d72"/><stop offset="0.160" stop-color="#6e6f73"/><stop offset="0.200" stop-color="#757575"/><stop offset="0.240" stop-color="#7e7d78"/><stop offset="0.280" stop-color="#8d8878"/><stop offset="0.320" stop-color="#9d9576"/><stop offset="0.360" stop-color="#aea371"/><stop offset="0.400" stop-color="#bcae6c"/><stop offset="0.440" stop-color="#c5b568"/><stop offset="0.480" stop-color="#c9b965"/><stop offset="0.520" stop-color="#cbb965"/><stop offset="0.560" stop-color="#c6b667"/><stop offset="0.600" stop-color="#bcae6c"/><stop offset="0.640" stop-color="#a89e73"/><stop offset="0.680" stop-color="#8f8a78"/><stop offset="0.720" stop-color="#777776"/><stop offset="0.760" stop-color="#646770"/><stop offset="0.800" stop-color="#555c6d"/><stop offset="0.840" stop-color="#4d556c"/><stop offset="0.880" stop-color="#48526c"/><stop offset="0.920" stop-color="#46516c"/><stop offset="0.960" stop-color="#46516c"/><stop offset="1.000" stop-color="#444f6c"/></linearGradient><linearGradient id="g57" x1="0" x2="1" y1="0" y2="0"><stop offset="0.000" stop-color="#60646f"/><stop offset="0.040" stop-color="#636670"/><stop offset="0.080" stop-color="#656870"/><stop offset="0.120" stop-color="#676a71"/><stop offset="0.160" stop-color="#6c6d72"/><stop offset="0.200" stop-color="#727274"/><stop offset="0.240" stop-color="#7a7a78"/><stop offset="0.280" stop-color="#878478"/><stop offset="0.320" stop-color="#958f77"/><stop offset="0.360" stop-color="#a39a74"/><stop offset="0.400" stop-color="#afa471"/><stop offset="0.440" stop-color="#b8aa6e"/><stop offset="0.480" stop-color="#bdae6c"/><stop offset="0.520" stop-color="#beaf6b"/><stop offset="0.560" stop-color="#bbad6d"/><stop offset="0.600" stop-color="#b0a571"/><stop offset="0.640" stop-color="#9e9676"/><stop offset="0.680" stop-color="#878478"/><stop offset="0.720" stop-color="#717274"/><stop offset="0.760" stop-color="#5e636f"/><stop offset="0.800" stop-color="#52596d"/><stop offset="0.840" stop-color="#49536c"/><stop offset="0.880" stop-color="#45506c"/><stop offset="0.920" stop-color="#434e6c"/><stop offset="0.960" stop-color="#424e6c"/><stop offset="1.000" stop-color="#404c6c"/></linearGradient><linearGradient id="g58" x1="0" x2="1" y1="0" y2="0"><stop offset="0.000" stop-color="#5e626e"/><stop offset="0.040" stop-color="#5f636f"/><stop offset="0.080" stop-color="#61656f"/><stop offset="0.120" stop-color="#646770"/><stop offset="0.160" stop-color="#686a71"/><stop offset="0.200" stop-color="#6e6f73"/><stop offset="0.240" stop-color="#767676"/><stop offset="0.280" stop-color="#807f78"/><stop offset="0.320" stop-color="#8d8878"/><stop offset="0.360" stop-color="#999277"/><stop offset="0.400" stop-color="#a39a74"/><stop offset="0.440" stop-color="#aba072"/><stop offset="0.480" stop-color="#b0a571"/><stop offset="0.520" stop-color="#b1a570"/><stop offset="0.560" stop-color="#aea371"/><stop offset="0.600" stop-color="#a59c74"/><stop offset="0.640" stop-color="#948e77"/><stop offset="0.680" stop-color="#7f7e78"/><stop offset="0.720" stop-color="#6b6d72"/><stop offset="0.760" stop-color="#5a5f6e"/><stop offset="0.800" stop-color="#4d556c"/><stop offset="0.840" stop-color="#45506c"/><stop offset="0.880" stop-color="#414d6c"/><stop offset="0.920" stop-color="#3f4c6c"/><stop offset="0.960" stop-color="#3e4b6c"/><stop offset="1.000" stop-color="#3c4a6c"/></linearGradient><linearGradient id="g59" x1="0" x2="1" y1="0" y2="0"><stop offset="0.000" stop-color="#5a5f6e"/><stop offset="0.040" stop-color="#5b606e"/><stop offset="0.080" stop-color="#5e626e"/><stop offset="0.120" stop-color="#60646f"/><stop offset="0.160" stop-color="#656870"/><stop offset="0.200" stop-color="#6b6d72"/><stop offset="0.240" stop-color="#727274"/><stop offset="0.280" stop-color="#7a7a78"/><stop offset="0.320" stop-color="#848279"/><stop offset="0.360" stop-color="#8f8a78"/><stop offset="0.400" stop-color="#979177"/><stop offset="0.440" stop-color="#9f9775"/><stop offset="0.480" stop-color="#a39a74"/><stop offset="0.520" stop-color="#a59c74"/><stop offset="0.560" stop-color="#a39a74"/><stop offset="0.600" stop-color="#9a9376"/><stop offset="0.640" stop-color="#8b8778"/><stop offset="0.680" stop-color="#777777"/><stop offset="0.720" stop-color="#656870"/><stop offset="0.760" stop-color="#555c6d"/><stop offset="0.800" stop-color="#49536c"/><stop offset="0.840" stop-color="#424e6c"/><stop offset="0.880" stop-color="#3e4b6c"/><stop offset="0.920" stop-color="#3c4a6c"/><stop offset="0.960" stop-color="#3a486c"/><stop offset="1.000" stop-color="#39486c"/></linearGradient><linearGradient id="g60" x1="0" x2="1" y1="0" y2="0"><stop offset="0.000" stop-color="#565c6d"/><stop offset="0.040" stop-color="#575d6d"/><stop offset="0.080" stop-color="#595e6e"/><stop offset="0.120" stop-color="#5d616e"/><stop offset="0.160" stop-color="#61656f"/><stop offset="0.200" stop-color="#666970"/><stop offset="0.240" stop-color="#6d6f72"/><stop offset="0.280" stop-color="#747475"/><stop offset="0.320" stop-color="#7c7b78"/><stop offset="0.360" stop-color="#848279"/><stop offset="0.400" stop-color="#8d8878"/><stop offset="0.440" stop-color="#938e78"/><stop offset="0.480" stop-color="#979177"/><stop offset="0.520" stop-color="#999277"/><stop offset="0.560" stop-color="#979177"/><stop offset="0.600" stop-color="#908b78"/><stop offset="0.640" stop-color="#817f78"/><stop offset="0.680" stop-color="#717274"/><stop offset="0.720" stop-color="#5f636f"/><stop offset="0.760" stop-color="#50576c"/><stop offset="0.800" stop-color="#45506c"/><stop offset="0.840" stop-color="#3e4b6c"/><stop offset="0.880" stop-color="#3a486c"/><stop offset="0.920" stop-color="#38476c"/><stop offset="0.960" stop-color="#36466c"/><stop offset="1.000" stop-color="#35456c"/></linearGradient><linearGradient id="g61" x1="0" x2="1" y1="0" y2="0"><stop offset="0.000" stop-color="#52596d"/><stop offset="0.040" stop-color="#545a6d"/><stop offset="0.080" stop-color="#555c6d"/><stop offset="0.120" stop-color="#595e6e"/><stop offset="0.160" stop-color="#5d616e"/><stop offset="0.200" stop-color="#62656f"/><stop offset="0.240" stop-color="#686a71"/><stop offset="0.280" stop-color="#6e6f73"/><stop offset="0.320" stop-color="#757575"/><stop offset="0.360" stop-color="#7c7b78"/><stop offset="0.400" stop-color="#828079"/><stop offset="0.440" stop-color="#888578"/><stop offset="0.480" stop-color="#8d8878"/><stop offset="0.520" stop-color="#8f8a78"/><stop offset="0.560" stop-color="#8d8878"/><stop offset="0.600" stop-color="#858279"/><stop offset="0.640" stop-color="#797977"/><stop offset="0.680" stop-color="#6a6c71"/><stop offset="0.720" stop-color="#5a5f6e"/><stop offset="0.760" stop-color="#4b546c"/><stop offset="0.800" stop-color="#414d6c"/><stop offset="0.840" stop-color="#3b496c"/><stop offset="0.880" stop-color="#36466c"/><stop offset="0.920" stop-color="#35456c"/><stop offset="0.960" stop-color="#33446d"/><stop offset="1.000" stop-color="#32436d"/></linearGradient><linearGradient id="g62" x1="0" x2="1" y1="0" y2="0"><stop offset="0.000" stop-color="#4e566c"/><stop offset="0.040" stop-color="#4f576c"/><stop offset="0.080" stop-color="#52596d"/><stop offset="0.120" stop-color="#555c6d"/><stop offset="0.160" stop-color="#595e6e"/><stop offset="0.200" stop-color="#5e636f"/><stop offset="0.240" stop-color="#646770"/><stop offset="0.280" stop-color="#696b71"/><stop offset="0.320" stop-color="#6e6f73"/><stop offset="0.360" stop-color="#737475"/><stop offset="0.400" stop-color="#797977"/><stop offset="0.440" stop-color="#7e7d78"/><stop offset="0.480" stop-color="#828079"/><stop offset="0.520" stop-color="#848279"/><stop offset="0.560" stop-color="#828079"/><stop offset="0.600" stop-color="#7c7b78"/><stop offset="0.640" stop-color="#717274"/><stop offset="0.680" stop-color="#636670"/><stop offset="0.720" stop-color="#545a6d"/><stop offset="0.760" stop-color="#46516c"/><stop offset="0.800" stop-color="#3d4a6c"/><stop offset="0.840" stop-color="#36466c"/><stop offset="0.880" stop-color="#33446d"/><stop offset="0.920" stop-color="#32436d"/><stop offset="0.960" stop-color="#31436d"/><stop offset="1.000" stop-color="#2f426d"/></linearGradient><linearGradient id="g63" x1="0" x2="1" y1="0" y2="0"><stop offset="0.000" stop-color="#49536c"/><stop offset="0.040" stop-color="#4b546c"/><stop offset="0.080" stop-color="#4e566c"/><stop offset="0.120" stop-color="#52596d"/><stop offset="0.160" stop-color="#555c6d"/><stop offset="0.200" stop-color="#5a5f6e"/><stop offset="0.240" stop-color="#5e636f"/><stop offset="0.280" stop-color="#646770"/><stop offset="0.320" stop-color="#686a71"/><stop offset="0.360" stop-color="#6c6e72"/><stop offset="0.400" stop-color="#727274"/><stop offset="0.440" stop-color="#767676"/><stop offset="0.480" stop-color="#797977"/><stop offset="0.520" stop-color="#7b7a78"/><stop offset="0.560" stop-color="#797977"/><stop offset="0.600" stop-color="#737475"/><stop offset="0.640" stop-color="#696b71"/><stop offset="0.680" stop-color="#5c616e"/><stop offset="0.720" stop-color="#4e566c"/><stop offset="0.760" stop-color="#414d6c"/><stop offset="0.800" stop-color="#39486c"/><stop offset="0.840" stop-color="#33446d"/><stop offset="0.880" stop-color="#31436d"/><stop offset="0.920" stop-color="#2f426d"/><stop offset="0.960" stop-color="#2e416d"/><stop offset="1.000" stop-color="#2d416d"/></linearGradient><linearGradient id="g64" x1="0" x2="1" y1="0" y2="0"><stop offset="0.000" stop-color="#45506c"/><stop offset="0.040" stop-color="#47516c"/><stop offset="0.080" stop-color="#4a536c"/><stop offset="0.120" stop-color="#4e566c"/><stop offset="0.160" stop-color="#52596d"/><stop offset="0.200" stop-color="#555c6d"/><stop offset="0.240" stop-color="#5a5f6e"/><stop offset="0.280" stop-color="#5e626e"/><stop offset="0.320" stop-color="#62656f"/><stop offset="0.360" stop-color="#656870"/><stop offset="0.400" stop-color="#6b6d72"/><stop offset="0.440" stop-color="#6f7073"/><stop offset="0.480" stop-color="#727374"/><stop offset="0.520" stop-color="#737475"/><stop offset="0.560" stop-color="#717274"/><stop offset="0.600" stop-color="#6c6d72"/><stop offset="0.640" stop-color="#62656f"/><stop offset="0.680" stop-color="#555c6d"/><stop offset="0.720" stop-color="#48526c"/><stop offset="0.760" stop-color="#3d4a6c"/><stop offset="0.800" stop-color="#34456c"/><stop offset="0.840" stop-color="#2f426d"/><stop offset="0.880" stop-color="#2d416d"/><stop offset="0.920" stop-color="#2b406d"/><stop offset="0.960" stop-color="#2b406d"/><stop offset="1.000" stop-color="#2b406d"/></linearGradient><linearGradient id="g65" x1="0" x2="1" y1="0" y2="0"><stop offset="0.000" stop-color="#404c6c"/><stop offset="0.040" stop-color="#434e6c"/><stop offset="0.080" stop-color="#46516c"/><stop offset="0.120" stop-color="#4a536c"/><stop offset="0.160" stop-color="#4e566c"/><stop offset="0.200" stop-color="#52596d"/><stop offset="0.240" stop-color="#555c6d"/><stop offset="0.280" stop-color="#595e6e"/><stop offset="0.320" stop-color="#5d616e"/><stop offset="0.360" stop-color="#60646f"/><stop offset="0.400" stop-color="#656870"/><stop offset="0.440" stop-color="#696b71"/><stop offset="0.480" stop-color="#6c6d72"/><stop offset="0.520" stop-color="#6c6d72"/><stop offset="0.560" stop-color="#6a6c71"/><stop offset="0.600" stop-color="#646770"/><stop offset="0.640" stop-color="#5b606e"/><stop offset="0.680" stop-color="#4f576c"/><stop offset="0.720" stop-color="#434e6c"/><stop offset="0.760" stop-color="#38476c"/><stop offset="0.800" stop-color="#31436d"/><stop offset="0.840" stop-color="#2b406d"/><stop offset="0.880" stop-color="#2a3f6d"/><stop offset="0.920" stop-color="#2a3f6d"/><stop offset="0.960" stop-color="#2a3f6d"/><stop offset="1.000" stop-color="#2a3f6d"/></linearGradient><linearGradient id="g66" x1="0" x2="1" y1="0" y2="0"><stop offset="0.000" stop-color="#3b496c"/><stop offset="0.040" stop-color="#3f4c6c"/><stop offset="0.080" stop-color="#424e6c"/><stop offset="0.120" stop-color="#46516c"/><stop offset="0.160" stop-color="#4a536c"/><stop offset="0.200" stop-color="#4d556c"/><stop offset="0.240" stop-color="#51586d"/><stop offset="0.280" stop-color="#555b6d"/><stop offset="0.320" stop-color="#575d6d"/><stop offset="0.360" stop-color="#5b606e"/><stop offset="0.400" stop-color="#5f636f"/><stop offset="0.440" stop-color="#636670"/><stop offset="0.480" stop-color="#656870"/><stop offset="0.520" stop-color="#656870"/><stop offset="0.560" stop-color="#636670"/><stop offset="0.600" stop-color="#5d616e"/><stop offset="0.640" stop-color="#545a6d"/><stop offset="0.680" stop-color="#49536c"/><stop offset="0.720" stop-color="#3d4a6c"/><stop offset="0.760" stop-color="#33446d"/><stop offset="0.800" stop-color="#2d416d"/><stop offset="0.840" stop-color="#293f6e"/><stop offset="0.880" stop-color="#273e6e"/><stop offset="0.920" stop-color="#273e6e"/><stop offset="0.960" stop-color="#293f6e"/><stop offset="1.000" stop-color="#293f6e"/></linearGradient><linearGradient id="g67" x1="0" x2="1" y1="0" y2="0"><stop offset="0.000" stop-color="#36466c"/><stop offset="0.040" stop-color="#3b496c"/><stop offset="0.080" stop-color="#3f4c6c"/><stop offset="0.120" stop-color="#424e6c"/><stop offset="0.160" stop-color="#46516c"/><stop offset="0.200" stop-color="#49536c"/><stop offset="0.240" stop-color="#4d556c"/><stop offset="0.280" stop-color="#50576c"/><stop offset="0.320" stop-color="#535a6d"/><stop offset="0.360" stop-color="#565c6d"/><stop offset="0.400" stop-color="#5a5f6e"/><stop offset="0.440" stop-color="#5e636f"/><stop offset="0.480" stop-color="#60646f"/><stop offset="0.520" stop-color="#60646f"/><stop offset="0.560" stop-color="#5d616e"/><stop offset="0.600" stop-color="#565c6d"/><stop offset="0.640" stop-color="#4e566c"/><stop offset="0.680" stop-color="#434e6c"/><stop offset="0.720" stop-color="#39486c"/><stop offset="0.760" stop-color="#2e416d"/><stop offset="0.800" stop-color="#293f6e"/><stop offset="0.840" stop-color="#243c6e"/><stop offset="0.880" stop-color="#243c6e"/><stop offset="0.920" stop-color="#243c6e"/><stop offset="0.960" stop-color="#273e6e"/><stop offset="1.000" stop-color="#273e6e"/></linearGradient><linearGradient id="g68" x1="0" x2="1" y1="0" y2="0"><stop offset="0.000" stop-color="#31436d"/><stop offset="0.040" stop-color="#36466c"/><stop offset="0.080" stop-color="#3b496c"/><stop offset="0.120" stop-color="#3f4c6c"/><stop offset="0.160" stop-color="#424e6c"/><stop offset="0.200" stop-color="#45506c"/><stop offset="0.240" stop-color="#48526c"/><stop offset="0.280" stop-color="#4b546c"/><stop offset="0.320" stop-color="#4f576c"/><stop offset="0.360" stop-color="#52596d"/><stop offset="0.400" stop-color="#565c6d"/><stop offset="0.440" stop-color="#5a5f6e"/><stop offset="0.480" stop-color="#5c616e"/><stop offset="0.520" stop-color="#5c616e"/><stop offset="0.560" stop-color="#575d6d"/><stop offset="0.600" stop-color="#51586d"/><stop offset="0.640" stop-color="#48526c"/><stop offset="0.680" stop-color="#3e4b6c"/><stop offset="0.720" stop-color="#33446d"/><stop offset="0.760" stop-color="#2a3f6d"/><stop offset="0.800" stop-color="#243c6e"/><stop offset="0.840" stop-color="#213b6e"/><stop offset="0.880" stop-color="#213b6e"/><stop offset="0.920" stop-color="#233c6e"/><stop offset="0.960" stop-color="#263d6e"/><stop offset="1.000" stop-color="#273e6e"/></linearGradient><linearGradient id="g69" x1="0" x2="1" y1="0" y2="0"><stop offset="0.000" stop-color="#2b406d"/><stop offset="0.040" stop-color="#32436d"/><stop offset="0.080" stop-color="#36466c"/><stop offset="0.120" stop-color="#3b496c"/><stop offset="0.160" stop-color="#3e4b6c"/><stop offset="0.200" stop-color="#414d6c"/><stop offset="0.240" stop-color="#444f6c"/><stop offset="0.280" stop-color="#47516c"/><stop offset="0.320" stop-color="#4b546c"/><stop offset="0.360" stop-color="#4f576c"/><stop offset="0.400" stop-color="#535a6d"/><stop offset="0.440" stop-color="#565c6d"/><stop offset="0.480" stop-color="#585e6d"/><stop offset="0.520" stop-color="#575d6d"/><stop offset="0.560" stop-color="#535a6d"/><stop offset="0.600" stop-color="#4c556c"/><stop offset="0.640" stop-color="#434e6c"/><stop offset="0.680" stop-color="#39486c"/><stop offset="0.720" stop-color="#2e416d"/><stop offset="0.760" stop-color="#263d6e"/><stop offset="0.800" stop-color="#203a6f"/><stop offset="0.840" stop-color="#1e3a6f"/><stop offset="0.880" stop-color="#1e3a6f"/><stop offset="0.920" stop-color="#213b6e"/><stop offset="0.960" stop-color="#243c6e"/><stop offset="1.000" stop-color="#273e6e"/></linearGradient><linearGradient id="g70" x1="0" x2="1" y1="0" y2="0"><stop offset="0.000" stop-color="#243c6e"/><stop offset="0.040" stop-color="#2d416d"/><stop offset="0.080" stop-color="#33446d"/><stop offset="0.120" stop-color="#36466c"/><stop offset="0.160" stop-color="#3b496c"/><stop offset="0.200" stop-color="#3e4b6c"/><stop offset="0.240" stop-color="#414d6c"/><stop offset="0.280" stop-color="#444f6c"/><stop offset="0.320" stop-color="#47516c"/><stop offset="0.360" stop-color="#4b546c"/><stop offset="0.400" stop-color="#50576c"/><stop offset="0.440" stop-color="#545a6d"/><stop offset="0.480" stop-color="#555b6d"/><stop offset="0.520" stop-color="#545a6d"/><stop offset="0.560" stop-color="#4f576c"/><stop offset="0.600" stop-color="#47516c"/><stop offset="0.640" stop-color="#3e4b6c"/><stop offset="0.680" stop-color="#34456c"/><stop offset="0.720" stop-color="#2a3f6d"/><stop offset="0.760" stop-color="#213b6e"/><stop offset="0.800" stop-color="#1c396f"/><stop offset="0.840" stop-color="#1a386f"/><stop offset="0.880" stop-color="#1c396f"/><stop offset="0.920" stop-color="#203a6f"/><stop offset="0.960" stop-color="#233c6e"/><stop offset="1.000" stop-color="#263d6e"/></linearGradient><linearGradient id="g71" x1="0" x2="1" y1="0" y2="0"><stop offset="0.000" stop-color="#1e3a6f"/><stop offset="0.040" stop-color="#273e6e"/><stop offset="0.080" stop-color="#2e416d"/><stop offset="0.120" stop-color="#33446d"/><stop offset="0.160" stop-color="#36466c"/><stop offset="0.200" stop-color="#3a486c"/><stop offset="0.240" stop-color="#3d4a6c"/><stop offset="0.280" stop-color="#414d6c"/><stop offset="0.320" stop-color="#444f6c"/><stop offset="0.360" stop-color="#49536c"/><stop offset="0.400" stop-color="#4d556c"/><stop offset="0.440" stop-color="#51586d"/><stop offset="0.480" stop-color="#52596d"/><stop offset="0.520" stop-color="#51586d"/><stop offset="0.560" stop-color="#4b546c"/><stop offset="0.600" stop-color="#434e6c"/><stop offset="0.640" stop-color="#3a486c"/><stop offset="0.680" stop-color="#31436d"/><stop offset="0.720" stop-color="#263d6e"/><stop offset="0.760" stop-color="#1e3a6f"/><stop offset="0.800" stop-color="#18376f"/><stop offset="0.840" stop-color="#163770"/><stop offset="0.880" stop-color="#1a386f"/><stop offset="0.920" stop-color="#1e3a6f"/><stop offset="0.960" stop-color="#213b6e"/><stop offset="1.000" stop-color="#263d6e"/></linearGradient><linearGradient id="g72" x1="0" x2="1" y1="0" y2="0"><stop offset="0.000" stop-color="#163770"/><stop offset="0.040" stop-color="#213b6e"/><stop offset="0.080" stop-color="#293f6e"/><stop offset="0.120" stop-color="#2e416d"/><stop offset="0.160" stop-color="#33446d"/><stop offset="0.200" stop-color="#36466c"/><stop offset="0.240" stop-color="#3a486c"/><stop offset="0.280" stop-color="#3e4b6c"/><stop offset="0.320" stop-color="#424e6c"/><stop offset="0.360" stop-color="#46516c"/><stop offset="0.400" stop-color="#4a536c"/><stop offset="0.440" stop-color="#4e566c"/><stop offset="0.480" stop-color="#50576c"/><stop offset="0.520" stop-color="#4e566c"/><stop offset="0.560" stop-color="#48526c"/><stop offset="0.600" stop-color="#404c6c"/><stop offset="0.640" stop-color="#38476c"/><stop offset="0.680" stop-color="#2d416d"/><stop offset="0.720" stop-color="#233c6e"/><stop offset="0.760" stop-color="#1a386f"/><stop offset="0.800" stop-color="#143670"/><stop offset="0.840" stop-color="#143670"/><stop offset="0.880" stop-color="#163770"/><stop offset="0.920" stop-color="#1c396f"/><stop offset="0.960" stop-color="#203a6f"/><stop offset="1.000" stop-color="#243c6e"/></linearGradient><linearGradient id="g73" x1="0" x2="1" y1="0" y2="0"><stop offset="0.000" stop-color="#0f3570"/><stop offset="0.040" stop-color="#1c396f"/><stop offset="0.080" stop-color="#243c6e"/><stop offset="0.120" stop-color="#2a3f6d"/><stop offset="0.160" stop-color="#2e416d"/><stop offset="0.200" stop-color="#33446d"/><stop offset="0.240" stop-color="#36466c"/><stop offset="0.280" stop-color="#3b496c"/><stop offset="0.320" stop-color="#3f4c6c"/><stop offset="0.360" stop-color="#444f6c"/><stop offset="0.400" stop-color="#48526c"/><stop offset="0.440" stop-color="#4c556c"/><stop offset="0.480" stop-color="#4e566c"/><stop offset="0.520" stop-color="#4c556c"/><stop offset="0.560" stop-color="#46516c"/><stop offset="0.600" stop-color="#3e4b6c"/><stop offset="0.640" stop-color="#35456c"/><stop offset="0.680" stop-color="#2a3f6d"/><stop offset="0.720" stop-color="#203a6f"/><stop offset="0.760" stop-color="#163770"/><stop offset="0.800" stop-color="#123570"/><stop offset="0.840" stop-color="#123570"/><stop offset="0.880" stop-color="#163770"/><stop offset="0.920" stop-color="#1a386f"/><stop offset="0.960" stop-color="#203a6f"/><stop offset="1.000" stop-color="#233c6e"/></linearGradient><linearGradient id="g74" x1="0" x2="1" y1="0" y2="0"><stop offset="0.000" stop-color="#013271"/><stop offset="0.040" stop-color="#143670"/><stop offset="0.080" stop-color="#1e3a6f"/><stop offset="0.120" stop-color="#243c6e"/><stop offset="0.160" stop-color="#2a3f6d"/><stop offset="0.200" stop-color="#2f426d"/><stop offset="0.240" stop-color="#34456c"/><stop offset="0.280" stop-color="#39486c"/><stop offset="0.320" stop-color="#3d4a6c"/><stop offset="0.360" stop-color="#424e6c"/><stop offset="0.400" stop-color="#46516c"/><stop offset="0.440" stop-color="#4a536c"/><stop offset="0.480" stop-color="#4c556c"/><stop offset="0.520" stop-color="#4a536c"/><stop offset="0.560" stop-color="#45506c"/><stop offset="0.600" stop-color="#3d4a6c"/><stop offset="0.640" stop-color="#33446d"/><stop offset="0.680" stop-color="#293f6e"/><stop offset="0.720" stop-color="#1e3a6f"/><stop offset="0.760" stop-color="#163770"/><stop offset="0.800" stop-color="#0f3570"/><stop offset="0.840" stop-color="#0f3570"/><stop offset="0.880" stop-color="#143670"/><stop offset="0.920" stop-color="#18376f"/><stop offset="0.960" stop-color="#1e3a6f"/><stop offset="1.000" stop-color="#213b6e"/></linearGradient><linearGradient id="g75" x1="0" x2="1" y1="0" y2="0"><stop offset="0.000" stop-color="#003070"/><stop offset="0.040" stop-color="#083370"/><stop offset="0.080" stop-color="#163770"/><stop offset="0.120" stop-color="#203a6f"/><stop offset="0.160" stop-color="#263d6e"/><stop offset="0.200" stop-color="#2b406d"/><stop offset="0.240" stop-color="#31436d"/><stop offset="0.280" stop-color="#36466c"/><stop offset="0.320" stop-color="#3b496c"/><stop offset="0.360" stop-color="#404c6c"/><stop offset="0.400" stop-color="#45506c"/><stop offset="0.440" stop-color="#49536c"/><stop offset="0.480" stop-color="#4a536c"/><stop offset="0.520" stop-color="#49536c"/><stop offset="0.560" stop-color="#444f6c"/><stop offset="0.600" stop-color="#3c4a6c"/><stop offset="0.640" stop-color="#33446d"/><stop offset="0.680" stop-color="#293f6e"/><stop offset="0.720" stop-color="#1e3a6f"/><stop offset="0.760" stop-color="#143670"/><stop offset="0.800" stop-color="#0f3570"/><stop offset="0.840" stop-color="#0f3570"/><stop offset="0.880" stop-color="#123570"/><stop offset="0.920" stop-color="#163770"/><stop offset="0.960" stop-color="#1c396f"/><stop offset="1.000" stop-color="#203a6f"/></linearGradient><linearGradient id="g76" x1="0" x2="1" y1="0" y2="0"><stop offset="0.000" stop-color="#002e6c"/><stop offset="0.040" stop-color="#003171"/><stop offset="0.080" stop-color="#0c3470"/><stop offset="0.120" stop-color="#18376f"/><stop offset="0.160" stop-color="#213b6e"/><stop offset="0.200" stop-color="#293f6e"/><stop offset="0.240" stop-color="#2e416d"/><stop offset="0.280" stop-color="#34456c"/><stop offset="0.320" stop-color="#3a486c"/><stop offset="0.360" stop-color="#3e4b6c"/><stop offset="0.400" stop-color="#434e6c"/><stop offset="0.440" stop-color="#47516c"/><stop offset="0.480" stop-color="#49536c"/><stop offset="0.520" stop-color="#48526c"/><stop offset="0.560" stop-color="#434e6c"/><stop offset="0.600" stop-color="#3c4a6c"/><stop offset="0.640" stop-color="#33446d"/><stop offset="0.680" stop-color="#293f6e"/><stop offset="0.720" stop-color="#1e3a6f"/><stop offset="0.760" stop-color="#143670"/><stop offset="0.800" stop-color="#0f3570"/><stop offset="0.840" stop-color="#0c3470"/><stop offset="0.880" stop-color="#0f3570"/><stop offset="0.920" stop-color="#143670"/><stop offset="0.960" stop-color="#1a386f"/><stop offset="1.000" stop-color="#1e3a6f"/></linearGradient><linearGradient id="g77" x1="0" x2="1" y1="0" y2="0"><stop offset="0.000" stop-color="#002c66"/><stop offset="0.040" stop-color="#002f6d"/><stop offset="0.080" stop-color="#013271"/><stop offset="0.120" stop-color="#123570"/><stop offset="0.160" stop-color="#1c396f"/><stop offset="0.200" stop-color="#243c6e"/><stop offset="0.240" stop-color="#2d416d"/><stop offset="0.280" stop-color="#32436d"/><stop offset="0.320" stop-color="#38476c"/><stop offset="0.360" stop-color="#3d4a6c"/><stop offset="0.400" stop-color="#424e6c"/><stop offset="0.440" stop-color="#46516c"/><stop offset="0.480" stop-color="#48526c"/><stop offset="0.520" stop-color="#47516c"/><stop offset="0.560" stop-color="#434e6c"/><stop offset="0.600" stop-color="#3c4a6c"/><stop offset="0.640" stop-color="#33446d"/><stop offset="0.680" stop-color="#293f6e"/><stop offset="0.720" stop-color="#1e3a6f"/><stop offset="0.760" stop-color="#143670"/><stop offset="0.800" stop-color="#0f3570"/><stop offset="0.840" stop-color="#0c3470"/><stop offset="0.880" stop-color="#0f3570"/><stop offset="0.920" stop-color="#143670"/><stop offset="0.960" stop-color="#18376f"/><stop offset="1.000" stop-color="#1a386f"/></linearGradient><linearGradient id="g78" x1="0" x2="1" y1="0" y2="0"><stop offset="0.000" stop-color="#002b62"/><stop offset="0.040" stop-color="#002d68"/><stop offset="0.080" stop-color="#00306f"/><stop offset="0.120" stop-color="#053371"/><stop offset="0.160" stop-color="#163770"/><stop offset="0.200" stop-color="#213b6e"/><stop offset="0.240" stop-color="#2a3f6d"/><stop offset="0.280" stop-color="#31436d"/><stop offset="0.320" stop-color="#36466c"/><stop offset="0.360" stop-color="#3b496c"/><stop offset="0.400" stop-color="#404c6c"/><stop offset="0.440" stop-color="#45506c"/><stop offset="0.480" stop-color="#47516c"/><stop offset="0.520" stop-color="#47516c"/><stop offset="0.560" stop-color="#434e6c"/><stop offset="0.600" stop-color="#3d4a6c"/><stop offset="0.640" stop-color="#34456c"/><stop offset="0.680" stop-color="#2a3f6d"/><stop offset="0.720" stop-color="#203a6f"/><stop offset="0.760" stop-color="#163770"/><stop offset="0.800" stop-color="#0f3570"/><stop offset="0.840" stop-color="#0c3470"/><stop offset="0.880" stop-color="#0c3470"/><stop offset="0.920" stop-color="#123570"/><stop offset="0.960" stop-color="#143670"/><stop offset="1.000" stop-color="#18376f"/></linearGradient><linearGradient id="g79" x1="0" x2="1" y1="0" y2="0"><stop offset="0.000" stop-color="#002a5f"/><stop offset="0.040" stop-color="#002b62"/><stop offset="0.080" stop-color="#002e6a"/><stop offset="0.120" stop-color="#003170"/><stop offset="0.160" stop-color="#123570"/><stop offset="0.200" stop-color="#1e3a6f"/><stop offset="0.240" stop-color="#293f6e"/><stop offset="0.280" stop-color="#2f426d"/><stop offset="0.320" stop-color="#35456c"/><stop offset="0.360" stop-color="#3a486c"/><stop offset="0.400" stop-color="#3f4c6c"/><stop offset="0.440" stop-color="#444f6c"/><stop offset="0.480" stop-color="#47516c"/><stop offset="0.520" stop-color="#47516c"/><stop offset="0.560" stop-color="#444f6c"/><stop offset="0.600" stop-color="#3e4b6c"/><stop offset="0.640" stop-color="#36466c"/><stop offset="0.680" stop-color="#2d416d"/><stop offset="0.720" stop-color="#213b6e"/><stop offset="0.760" stop-color="#163770"/><stop offset="0.800" stop-color="#0f3570"/><stop offset="0.840" stop-color="#0c3470"/><stop offset="0.880" stop-color="#0c3470"/><stop offset="0.920" stop-color="#0f3570"/><stop offset="0.960" stop-color="#123570"/><stop offset="1.000" stop-color="#143670"/></linearGradient><linearGradient id="g80" x1="0" x2="1" y1="0" y2="0"><stop offset="0.000" stop-color="#00285b"/><stop offset="0.040" stop-color="#00295d"/><stop offset="0.080" stop-color="#002c64"/><stop offset="0.120" stop-color="#002f6d"/><stop offset="0.160" stop-color="#083370"/><stop offset="0.200" stop-color="#1c396f"/><stop offset="0.240" stop-color="#263d6e"/><stop offset="0.280" stop-color="#2e416d"/><stop offset="0.320" stop-color="#34456c"/><stop offset="0.360" stop-color="#39486c"/><stop offset="0.400" stop-color="#3e4b6c"/><stop offset="0.440" stop-color="#434e6c"/><stop offset="0.480" stop-color="#46516c"/><stop offset="0.520" stop-color="#47516c"/><stop offset="0.560" stop-color="#444f6c"/><stop offset="0.600" stop-color="#3f4c6c"/><stop offset="0.640" stop-color="#38476c"/><stop offset="0.680" stop-color="#2e416d"/><stop offset="0.720" stop-color="#233c6e"/><stop offset="0.760" stop-color="#18376f"/><stop offset="0.800" stop-color="#123570"/><stop offset="0.840" stop-color="#0c3470"/><stop offset="0.880" stop-color="#0c3470"/><stop offset="0.920" stop-color="#0c3470"/><stop offset="0.960" stop-color="#0f3570"/><stop offset="1.000" stop-color="#0f3570"/></linearGradient><linearGradient id="g81" x1="0" x2="1" y1="0" y2="0"><stop offset="0.000" stop-color="#002758"/><stop offset="0.040" stop-color="#002758"/><stop offset="0.080" stop-color="#002a5f"/><stop offset="0.120" stop-color="#002e6a"/><stop offset="0.160" stop-color="#013271"/><stop offset="0.200" stop-color="#18376f"/><stop offset="0.240" stop-color="#243c6e"/><stop offset="0.280" stop-color="#2d416d"/><stop offset="0.320" stop-color="#33446d"/><stop offset="0.360" stop-color="#38476c"/><stop offset="0.400" stop-color="#3d4a6c"/><stop offset="0.440" stop-color="#424e6c"/><stop offset="0.480" stop-color="#46516c"/><stop offset="0.520" stop-color="#47516c"/><stop offset="0.560" stop-color="#45506c"/><stop offset="0.600" stop-color="#414d6c"/><stop offset="0.640" stop-color="#3a486c"/><stop offset="0.680" stop-color="#31436d"/><stop offset="0.720" stop-color="#263d6e"/><stop offset="0.760" stop-color="#1a386f"/><stop offset="0.800" stop-color="#123570"/><stop offset="0.840" stop-color="#0c3470"/><stop offset="0.880" stop-color="#0c3470"/><stop offset="0.920" stop-color="#0c3470"/><stop offset="0.960" stop-color="#0c3470"/><stop offset="1.000" stop-color="#0c3470"/></linearGradient><linearGradient id="g82" x1="0" x2="1" y1="0" y2="0"><stop offset="0.000" stop-color="#002554"/><stop offset="0.040" stop-color="#002554"/><stop offset="0.080" stop-color="#002859"/><stop offset="0.120" stop-color="#002c64"/><stop offset="0.160" stop-color="#003170"/><stop offset="0.200" stop-color="#163770"/><stop offset="0.240" stop-color="#233c6e"/><stop offset="0.280" stop-color="#2b406d"/><stop offset="0.320" stop-color="#32436d"/><stop offset="0.360" stop-color="#36466c"/><stop offset="0.400" stop-color="#3c4a6c"/><stop offset="0.440" stop-color="#424e6c"/><stop offset="0.480" stop-color="#46516c"/><stop offset="0.520" stop-color="#48526c"/><stop offset="0.560" stop-color="#46516c"/><stop offset="0.600" stop-color="#424e6c"/><stop offset="0.640" stop-color="#3c4a6c"/><stop offset="0.680" stop-color="#33446d"/><stop offset="0.720" stop-color="#273e6e"/><stop offset="0.760" stop-color="#1e3a6f"/><stop offset="0.800" stop-color="#143670"/><stop offset="0.840" stop-color="#0f3570"/><stop offset="0.880" stop-color="#083370"/><stop offset="0.920" stop-color="#083370"/><stop offset="0.960" stop-color="#083370"/><stop offset="1.000" stop-color="#053371"/></linearGradient><linearGradient id="g83" x1="0" x2="1" y1="0" y2="0"><stop offset="0.000" stop-color="#002553"/><stop offset="0.040" stop-color="#00234f"/><stop offset="0.080" stop-color="#002554"/><stop offset="0.120" stop-color="#002a61"/><stop offset="0.160" stop-color="#00306f"/><stop offset="0.200" stop-color="#123570"/><stop offset="0.240" stop-color="#233c6e"/><stop offset="0.280" stop-color="#2b406d"/><stop offset="0.320" stop-color="#32436d"/><stop offset="0.360" stop-color="#36466c"/><stop offset="0.400" stop-color="#3c4a6c"/><stop offset="0.440" stop-color="#414d6c"/><stop offset="0.480" stop-color="#46516c"/><stop offset="0.520" stop-color="#48526c"/><stop offset="0.560" stop-color="#47516c"/><stop offset="0.600" stop-color="#444f6c"/><stop offset="0.640" stop-color="#3e4b6c"/><stop offset="0.680" stop-color="#35456c"/><stop offset="0.720" stop-color="#2a3f6d"/><stop offset="0.760" stop-color="#203a6f"/><stop offset="0.800" stop-color="#163770"/><stop offset="0.840" stop-color="#0f3570"/><stop offset="0.880" stop-color="#083370"/><stop offset="0.920" stop-color="#053371"/><stop offset="0.960" stop-color="#013271"/><stop offset="1.000" stop-color="#003171"/></linearGradient><linearGradient id="g84" x1="0" x2="1" y1="0" y2="0"><stop offset="0.000" stop-color="#002451"/><stop offset="0.040" stop-color="#00224e"/><stop offset="0.080" stop-color="#002451"/><stop offset="0.120" stop-color="#00295d"/><stop offset="0.160" stop-color="#002f6d"/><stop offset="0.200" stop-color="#0f3570"/><stop offset="0.240" stop-color="#213b6e"/><stop offset="0.280" stop-color="#2b406d"/><stop offset="0.320" stop-color="#31436d"/><stop offset="0.360" stop-color="#36466c"/><stop offset="0.400" stop-color="#3c4a6c"/><stop offset="0.440" stop-color="#414d6c"/><stop offset="0.480" stop-color="#46516c"/><stop offset="0.520" stop-color="#49536c"/><stop offset="0.560" stop-color="#49536c"/><stop offset="0.600" stop-color="#46516c"/><stop offset="0.640" stop-color="#404c6c"/><stop offset="0.680" stop-color="#38476c"/><stop offset="0.720" stop-color="#2d416d"/><stop offset="0.760" stop-color="#213b6e"/><stop offset="0.800" stop-color="#18376f"/><stop offset="0.840" stop-color="#0f3570"/><stop offset="0.880" stop-color="#083370"/><stop offset="0.920" stop-color="#013271"/><stop offset="0.960" stop-color="#003171"/><stop offset="1.000" stop-color="#003070"/></linearGradient><linearGradient id="g85" x1="0" x2="1" y1="0" y2="0"><stop offset="0.000" stop-color="#00234f"/><stop offset="0.040" stop-color="#00224e"/><stop offset="0.080" stop-color="#00234f"/><stop offset="0.120" stop-color="#002859"/><stop offset="0.160" stop-color="#002e6c"/><stop offset="0.200" stop-color="#0f3570"/><stop offset="0.240" stop-color="#213b6e"/><stop offset="0.280" stop-color="#2a3f6d"/><stop offset="0.320" stop-color="#31436d"/><stop offset="0.360" stop-color="#35456c"/><stop offset="0.400" stop-color="#3b496c"/><stop offset="0.440" stop-color="#414d6c"/><stop offset="0.480" stop-color="#46516c"/><stop offset="0.520" stop-color="#49536c"/><stop offset="0.560" stop-color="#4a536c"/><stop offset="0.600" stop-color="#47516c"/><stop offset="0.640" stop-color="#414d6c"/><stop offset="0.680" stop-color="#39486c"/><stop offset="0.720" stop-color="#2e416d"/><stop offset="0.760" stop-color="#233c6e"/><stop offset="0.800" stop-color="#18376f"/><stop offset="0.840" stop-color="#0f3570"/><stop offset="0.880" stop-color="#083370"/><stop offset="0.920" stop-color="#013271"/><stop offset="0.960" stop-color="#003170"/><stop offset="1.000" stop-color="#002f6d"/></linearGradient><linearGradient id="g86" x1="0" x2="1" y1="0" y2="0"><stop offset="0.000" stop-color="#00234f"/><stop offset="0.040" stop-color="#00224e"/><stop offset="0.080" stop-color="#00224e"/><stop offset="0.120" stop-color="#002758"/><stop offset="0.160" stop-color="#002e6a"/><stop offset="0.200" stop-color="#0c3470"/><stop offset="0.240" stop-color="#203a6f"/><stop offset="0.280" stop-color="#2a3f6d"/><stop offset="0.320" stop-color="#31436d"/><stop offset="0.360" stop-color="#35456c"/><stop offset="0.400" stop-color="#3c4a6c"/><stop offset="0.440" stop-color="#414d6c"/><stop offset="0.480" stop-color="#47516c"/><stop offset="0.520" stop-color="#4a536c"/><stop offset="0.560" stop-color="#4b546c"/><stop offset="0.600" stop-color="#49536c"/><stop offset="0.640" stop-color="#434e6c"/><stop offset="0.680" stop-color="#3b496c"/><stop offset="0.720" stop-color="#31436d"/><stop offset="0.760" stop-color="#243c6e"/><stop offset="0.800" stop-color="#1a386f"/><stop offset="0.840" stop-color="#123570"/><stop offset="0.880" stop-color="#053371"/><stop offset="0.920" stop-color="#003171"/><stop offset="0.960" stop-color="#00306f"/><stop offset="1.000" stop-color="#002e6c"/></linearGradient><linearGradient id="g87" x1="0" x2="1" y1="0" y2="0"><stop offset="0.000" stop-color="#00224e"/><stop offset="0.040" stop-color="#00224e"/><stop offset="0.080" stop-color="#00224e"/><stop offset="0.120" stop-color="#002656"/><stop offset="0.160" stop-color="#002d68"/><stop offset="0.200" stop-color="#0c3470"/><stop offset="0.240" stop-color="#203a6f"/><stop offset="0.280" stop-color="#2a3f6d"/><stop offset="0.320" stop-color="#31436d"/><stop offset="0.360" stop-color="#36466c"/><stop offset="0.400" stop-color="#3c4a6c"/><stop offset="0.440" stop-color="#424e6c"/><stop offset="0.480" stop-color="#47516c"/><stop offset="0.520" stop-color="#4b546c"/><stop offset="0.560" stop-color="#4c556c"/><stop offset="0.600" stop-color="#4a536c"/><stop offset="0.640" stop-color="#444f6c"/><stop offset="0.680" stop-color="#3c4a6c"/><stop offset="0.720" stop-color="#32436d"/><stop offset="0.760" stop-color="#263d6e"/><stop offset="0.800" stop-color="#1c396f"/><stop offset="0.840" stop-color="#123570"/><stop offset="0.880" stop-color="#053371"/><stop offset="0.920" stop-color="#003170"/><stop offset="0.960" stop-color="#002f6d"/><stop offset="1.000" stop-color="#002d68"/></linearGradient><linearGradient id="g88" x1="0" x2="1" y1="0" y2="0"><stop offset="0.000" stop-color="#00224e"/><stop offset="0.040" stop-color="#00224e"/><stop offset="0.080" stop-color="#00224e"/><stop offset="0.120" stop-color="#002554"/><stop offset="0.160" stop-color="#002c66"/><stop offset="0.200" stop-color="#083370"/><stop offset="0.240" stop-color="#203a6f"/><stop offset="0.280" stop-color="#2b406d"/><stop offset="0.320" stop-color="#32436d"/><stop offset="0.360" stop-color="#36466c"/><stop offset="0.400" stop-color="#3d4a6c"/><stop offset="0.440" stop-color="#424e6c"/><stop offset="0.480" stop-color="#48526c"/><stop offset="0.520" stop-color="#4b546c"/><stop offset="0.560" stop-color="#4d556c"/><stop offset="0.600" stop-color="#4b546c"/><stop offset="0.640" stop-color="#45506c"/><stop offset="0.680" stop-color="#3d4a6c"/><stop offset="0.720" stop-color="#33446d"/><stop offset="0.760" stop-color="#273e6e"/><stop offset="0.800" stop-color="#1c396f"/><stop offset="0.840" stop-color="#123570"/><stop offset="0.880" stop-color="#053371"/><stop offset="0.920" stop-color="#003070"/><stop offset="0.960" stop-color="#002e6c"/><stop offset="1.000" stop-color="#002c64"/></linearGradient><linearGradient id="g89" x1="0" x2="1" y1="0" y2="0"><stop offset="0.000" stop-color="#00224e"/><stop offset="0.040" stop-color="#00224e"/><stop offset="0.080" stop-color="#00224e"/><stop offset="0.120" stop-color="#002554"/><stop offset="0.160" stop-color="#002c66"/><stop offset="0.200" stop-color="#083370"/><stop offset="0.240" stop-color="#213b6e"/><stop offset="0.280" stop-color="#2b406d"/><stop offset="0.320" stop-color="#33446d"/><stop offset="0.360" stop-color="#38476c"/><stop offset="0.400" stop-color="#3d4a6c"/><stop offset="0.440" stop-color="#434e6c"/><stop offset="0.480" stop-color="#49536c"/><stop offset="0.520" stop-color="#4c556c"/><stop offset="0.560" stop-color="#4d556c"/><stop offset="0.600" stop-color="#4b546c"/><stop offset="0.640" stop-color="#46516c"/><stop offset="0.680" stop-color="#3e4b6c"/><stop offset="0.720" stop-color="#34456c"/><stop offset="0.760" stop-color="#293f6e"/><stop offset="0.800" stop-color="#1e3a6f"/><stop offset="0.840" stop-color="#123570"/><stop offset="0.880" stop-color="#013271"/><stop offset="0.920" stop-color="#00306f"/><stop offset="0.960" stop-color="#002d68"/><stop offset="1.000" stop-color="#002b62"/></linearGradient><linearGradient id="g90" x1="0" x2="1" y1="0" y2="0"><stop offset="0.000" stop-color="#00234f"/><stop offset="0.040" stop-color="#00224e"/><stop offset="0.080" stop-color="#00224e"/><stop offset="0.120" stop-color="#002656"/><stop offset="0.160" stop-color="#002d68"/><stop offset="0.200" stop-color="#0c3470"/><stop offset="0.240" stop-color="#213b6e"/><stop offset="0.280" stop-color="#2d416d"/><stop offset="0.320" stop-color="#33446d"/><stop offset="0.360" stop-color="#39486c"/><stop offset="0.400" stop-color="#3f4c6c"/><stop offset="0.440" stop-color="#45506c"/><stop offset="0.480" stop-color="#4a536c"/><stop offset="0.520" stop-color="#4d556c"/><stop offset="0.560" stop-color="#4e566c"/><stop offset="0.600" stop-color="#4b546c"/><stop offset="0.640" stop-color="#46516c"/><stop offset="0.680" stop-color="#3e4b6c"/><stop offset="0.720" stop-color="#34456c"/><stop offset="0.760" stop-color="#2a3f6d"/><stop offset="0.800" stop-color="#1e3a6f"/><stop offset="0.840" stop-color="#123570"/><stop offset="0.880" stop-color="#013271"/><stop offset="0.920" stop-color="#002f6d"/><stop offset="0.960" stop-color="#002c66"/><stop offset="1.000" stop-color="#002a5f"/></linearGradient><linearGradient id="g91" x1="0" x2="1" y1="0" y2="0"><stop offset="0.000" stop-color="#00234f"/><stop offset="0.040" stop-color="#00224e"/><stop offset="0.080" stop-color="#00224e"/><stop offset="0.120" stop-color="#002758"/><stop offset="0.160" stop-color="#002d68"/><stop offset="0.200" stop-color="#0c3470"/><stop offset="0.240" stop-color="#213b6e"/><stop offset="0.280" stop-color="#2d416d"/><stop offset="0.320" stop-color="#34456c"/><stop offset="0.360" stop-color="#3b496c"/><stop offset="0.400" stop-color="#404c6c"/><stop offset="0.440" stop-color="#46516c"/><stop offset="0.480" stop-color="#4b546c"/><stop offset="0.520" stop-color="#4e566c"/><stop offset="0.560" stop-color="#4e566c"/><stop offset="0.600" stop-color="#4b546c"/><stop offset="0.640" stop-color="#46516c"/><stop offset="0.680" stop-color="#3e4b6c"/><stop offset="0.720" stop-color="#34456c"/><stop offset="0.760" stop-color="#2a3f6d"/><stop offset="0.800" stop-color="#1e3a6f"/><stop offset="0.840" stop-color="#123570"/><stop offset="0.880" stop-color="#003171"/><stop offset="0.920" stop-color="#002e6c"/><stop offset="0.960" stop-color="#002c64"/><stop offset="1.000" stop-color="#00295d"/></linearGradient><linearGradient id="g92" x1="0" x2="1" y1="0" y2="0"><stop offset="0.000" stop-color="#002451"/><stop offset="0.040" stop-color="#00224e"/><stop offset="0.080" stop-color="#00224e"/><stop offset="0.120" stop-color="#002859"/><stop offset="0.160" stop-color="#002e6a"/><stop offset="0.200" stop-color="#0f3570"/><stop offset="0.240" stop-color="#233c6e"/><stop offset="0.280" stop-color="#2e416d"/><stop offset="0.320" stop-color="#36466c"/><stop offset="0.360" stop-color="#3c4a6c"/><stop offset="0.400" stop-color="#424e6c"/><stop offset="0.440" stop-color="#48526c"/><stop offset="0.480" stop-color="#4c556c"/><stop offset="0.520" stop-color="#4e566c"/><stop offset="0.560" stop-color="#4e566c"/><stop offset="0.600" stop-color="#4a536c"/><stop offset="0.640" stop-color="#45506c"/><stop offset="0.680" stop-color="#3d4a6c"/><stop offset="0.720" stop-color="#34456c"/><stop offset="0.760" stop-color="#2a3f6d"/><stop offset="0.800" stop-color="#1e3a6f"/><stop offset="0.840" stop-color="#0f3570"/><stop offset="0.880" stop-color="#003170"/><stop offset="0.920" stop-color="#002e6a"/><stop offset="0.960" stop-color="#002b62"/><stop offset="1.000" stop-color="#00285b"/></linearGradient><linearGradient id="g93" x1="0" x2="1" y1="0" y2="0"><stop offset="0.000" stop-color="#002553"/><stop offset="0.040" stop-color="#00224e"/><stop offset="0.080" stop-color="#002553"/><stop offset="0.120" stop-color="#00295d"/><stop offset="0.160" stop-color="#002f6d"/><stop offset="0.200" stop-color="#123570"/><stop offset="0.240" stop-color="#243c6e"/><stop offset="0.280" stop-color="#2f426d"/><stop offset="0.320" stop-color="#38476c"/><stop offset="0.360" stop-color="#3e4b6c"/><stop offset="0.400" stop-color="#444f6c"/><stop offset="0.440" stop-color="#4a536c"/><stop offset="0.480" stop-color="#4e566c"/><stop offset="0.520" stop-color="#4f576c"/><stop offset="0.560" stop-color="#4d556c"/><stop offset="0.600" stop-color="#49536c"/><stop offset="0.640" stop-color="#434e6c"/><stop offset="0.680" stop-color="#3c4a6c"/><stop offset="0.720" stop-color="#33446d"/><stop offset="0.760" stop-color="#293f6e"/><stop offset="0.800" stop-color="#1e3a6f"/><stop offset="0.840" stop-color="#0f3570"/><stop offset="0.880" stop-color="#003070"/><stop offset="0.920" stop-color="#002d68"/><stop offset="0.960" stop-color="#002a5f"/><stop offset="1.000" stop-color="#002859"/></linearGradient><linearGradient id="g94" x1="0" x2="1" y1="0" y2="0"><stop offset="0.000" stop-color="#002554"/><stop offset="0.040" stop-color="#002553"/><stop offset="0.080" stop-color="#002656"/><stop offset="0.120" stop-color="#002b62"/><stop offset="0.160" stop-color="#003070"/><stop offset="0.200" stop-color="#143670"/><stop offset="0.240" stop-color="#263d6e"/><stop offset="0.280" stop-color="#31436d"/><stop offset="0.320" stop-color="#3a486c"/><stop offset="0.360" stop-color="#414d6c"/><stop offset="0.400" stop-color="#47516c"/><stop offset="0.440" stop-color="#4c556c"/><stop offset="0.480" stop-color="#4f576c"/><stop offset="0.520" stop-color="#4f576c"/><stop offset="0.560" stop-color="#4c556c"/><stop offset="0.600" stop-color="#47516c"/><stop offset="0.640" stop-color="#414d6c"/><stop offset="0.680" stop-color="#3a486c"/><stop offset="0.720" stop-color="#31436d"/><stop offset="0.760" stop-color="#273e6e"/><stop offset="0.800" stop-color="#1c396f"/><stop offset="0.840" stop-color="#0c3470"/><stop offset="0.880" stop-color="#00306f"/><stop offset="0.920" stop-color="#002c66"/><stop offset="0.960" stop-color="#00295d"/><stop offset="1.000" stop-color="#002758"/></linearGradient><linearGradient id="g95" x1="0" x2="1" y1="0" y2="0"><stop offset="0.000" stop-color="#002656"/><stop offset="0.040" stop-color="#002758"/><stop offset="0.080" stop-color="#00295d"/><stop offset="0.120" stop-color="#002d68"/><stop offset="0.160" stop-color="#003171"/><stop offset="0.200" stop-color="#163770"/><stop offset="0.240" stop-color="#263d6e"/><stop offset="0.280" stop-color="#32436d"/><stop offset="0.320" stop-color="#3c4a6c"/><stop offset="0.360" stop-color="#444f6c"/><stop offset="0.400" stop-color="#4a536c"/><stop offset="0.440" stop-color="#4f576c"/><stop offset="0.480" stop-color="#51586d"/><stop offset="0.520" stop-color="#4f576c"/><stop offset="0.560" stop-color="#4b546c"/><stop offset="0.600" stop-color="#444f6c"/><stop offset="0.640" stop-color="#3d4a6c"/><stop offset="0.680" stop-color="#36466c"/><stop offset="0.720" stop-color="#2e416d"/><stop offset="0.760" stop-color="#263d6e"/><stop offset="0.800" stop-color="#1a386f"/><stop offset="0.840" stop-color="#083370"/><stop offset="0.880" stop-color="#002f6d"/><stop offset="0.920" stop-color="#002c64"/><stop offset="0.960" stop-color="#00285b"/><stop offset="1.000" stop-color="#002656"/></linearGradient><linearGradient id="g96" x1="0" x2="1" y1="0" y2="0"><stop offset="0.000" stop-color="#002859"/><stop offset="0.040" stop-color="#00295d"/><stop offset="0.080" stop-color="#002c64"/><stop offset="0.120" stop-color="#002f6d"/><stop offset="0.160" stop-color="#083370"/><stop offset="0.200" stop-color="#1a386f"/><stop offset="0.240" stop-color="#293f6e"/><stop offset="0.280" stop-color="#34456c"/><stop offset="0.320" stop-color="#3e4b6c"/><stop offset="0.360" stop-color="#47516c"/><stop offset="0.400" stop-color="#4e566c"/><stop offset="0.440" stop-color="#52596d"/><stop offset="0.480" stop-color="#535a6d"/><stop offset="0.520" stop-color="#4f576c"/><stop offset="0.560" stop-color="#49536c"/><stop offset="0.600" stop-color="#414d6c"/><stop offset="0.640" stop-color="#39486c"/><stop offset="0.680" stop-color="#32436d"/><stop offset="0.720" stop-color="#2b406d"/><stop offset="0.760" stop-color="#233c6e"/><stop offset="0.800" stop-color="#163770"/><stop offset="0.840" stop-color="#013271"/><stop offset="0.880" stop-color="#002e6c"/><stop offset="0.920" stop-color="#002a61"/><stop offset="0.960" stop-color="#002859"/><stop offset="1.000" stop-color="#002656"/></linearGradient>
</defs>
<g clip-path="url(#cb)">
<rect x="132.5" y="581.8" width="433.9" height="4.6" fill="url(#g0)"/><rect x="132.5" y="585.8" width="433.9" height="4.6" fill="url(#g1)"/><rect x="132.5" y="589.8" width="433.9" height="4.6" fill="url(#g2)"/><rect x="132.5" y="593.8" width="433.9" height="4.6" fill="url(#g3)"/><rect x="132.5" y="597.8" width="433.9" height="4.6" fill="url(#g4)"/><rect x="132.5" y="601.8" width="433.9" height="4.6" fill="url(#g5)"/><rect x="132.5" y="605.8" width="433.9" height="4.6" fill="url(#g6)"/><rect x="132.5" y="609.8" width="433.9" height="4.6" fill="url(#g7)"/><rect x="132.5" y="613.8" width="433.9" height="4.6" fill="url(#g8)"/><rect x="132.5" y="617.8" width="433.9" height="4.6" fill="url(#g9)"/><rect x="132.5" y="621.8" width="433.9" height="4.6" fill="url(#g10)"/><rect x="132.5" y="625.8" width="433.9" height="4.6" fill="url(#g11)"/><rect x="132.5" y="629.8" width="433.9" height="4.6" fill="url(#g12)"/><rect x="132.5" y="633.8" width="433.9" height="4.6" fill="url(#g13)"/><rect x="132.5" y="637.8" width="433.9" height="4.6" fill="url(#g14)"/><rect x="132.5" y="641.8" width="433.9" height="4.6" fill="url(#g15)"/><rect x="132.5" y="645.8" width="433.9" height="4.6" fill="url(#g16)"/><rect x="132.5" y="649.8" width="433.9" height="4.6" fill="url(#g17)"/><rect x="132.5" y="653.8" width="433.9" height="4.6" fill="url(#g18)"/><rect x="132.5" y="657.8" width="433.9" height="4.6" fill="url(#g19)"/><rect x="132.5" y="661.8" width="433.9" height="4.6" fill="url(#g20)"/><rect x="132.5" y="665.8" width="433.9" height="4.6" fill="url(#g21)"/><rect x="132.5" y="669.8" width="433.9" height="4.6" fill="url(#g22)"/><rect x="132.5" y="673.8" width="433.9" height="4.6" fill="url(#g23)"/><rect x="132.5" y="677.8" width="433.9" height="4.6" fill="url(#g24)"/><rect x="132.5" y="681.8" width="433.9" height="4.6" fill="url(#g25)"/><rect x="132.5" y="685.8" width="433.9" height="4.6" fill="url(#g26)"/><rect x="132.5" y="689.8" width="433.9" height="4.6" fill="url(#g27)"/><rect x="132.5" y="693.8" width="433.9" height="4.6" fill="url(#g28)"/><rect x="132.5" y="697.8" width="433.9" height="4.6" fill="url(#g29)"/><rect x="132.5" y="701.8" width="433.9" height="4.6" fill="url(#g30)"/><rect x="132.5" y="705.8" width="433.9" height="4.6" fill="url(#g31)"/><rect x="132.5" y="709.8" width="433.9" height="4.6" fill="url(#g32)"/><rect x="132.5" y="713.8" width="433.9" height="4.6" fill="url(#g33)"/><rect x="132.5" y="717.8" width="433.9" height="4.6" fill="url(#g34)"/><rect x="132.5" y="721.8" width="433.9" height="4.6" fill="url(#g35)"/><rect x="132.5" y="725.8" width="433.9" height="4.6" fill="url(#g36)"/><rect x="132.5" y="729.8" width="433.9" height="4.6" fill="url(#g37)"/><rect x="132.5" y="733.8" width="433.9" height="4.6" fill="url(#g38)"/><rect x="132.5" y="737.8" width="433.9" height="4.6" fill="url(#g39)"/><rect x="132.5" y="741.8" width="433.9" height="4.6" fill="url(#g40)"/><rect x="132.5" y="745.8" width="433.9" height="4.6" fill="url(#g41)"/><rect x="132.5" y="749.8" width="433.9" height="4.6" fill="url(#g42)"/><rect x="132.5" y="753.8" width="433.9" height="4.6" fill="url(#g43)"/><rect x="132.5" y="757.8" width="433.9" height="4.6" fill="url(#g44)"/><rect x="132.5" y="761.8" width="433.9" height="4.6" fill="url(#g45)"/><rect x="132.5" y="765.8" width="433.9" height="4.6" fill="url(#g46)"/><rect x="132.5" y="769.8" width="433.9" height="4.6" fill="url(#g47)"/><rect x="132.5" y="773.8" width="433.9" height="4.6" fill="url(#g48)"/><rect x="132.5" y="777.8" width="433.9" height="4.6" fill="url(#g49)"/><rect x="132.5" y="781.8" width="433.9" height="4.6" fill="url(#g50)"/><rect x="132.5" y="785.8" width="433.9" height="4.6" fill="url(#g51)"/><rect x="132.5" y="789.8" width="433.9" height="4.6" fill="url(#g52)"/><rect x="132.5" y="793.8" width="433.9" height="4.6" fill="url(#g53)"/><rect x="132.5" y="797.8" width="433.9" height="4.6" fill="url(#g54)"/><rect x="132.5" y="801.8" width="433.9" height="4.6" fill="url(#g55)"/><rect x="132.5" y="805.8" width="433.9" height="4.6" fill="url(#g56)"/><rect x="132.5" y="809.8" width="433.9" height="4.6" fill="url(#g57)"/><rect x="132.5" y="813.8" width="433.9" height="4.6" fill="url(#g58)"/><rect x="132.5" y="817.8" width="433.9" height="4.6" fill="url(#g59)"/><rect x="132.5" y="821.8" width="433.9" height="4.6" fill="url(#g60)"/><rect x="132.5" y="825.8" width="433.9" height="4.6" fill="url(#g61)"/><rect x="132.5" y="829.8" width="433.9" height="4.6" fill="url(#g62)"/><rect x="132.5" y="833.8" width="433.9" height="4.6" fill="url(#g63)"/><rect x="132.5" y="837.8" width="433.9" height="4.6" fill="url(#g64)"/><rect x="132.5" y="841.8" width="433.9" height="4.6" fill="url(#g65)"/><rect x="132.5" y="845.8" width="433.9" height="4.6" fill="url(#g66)"/><rect x="132.5" y="849.8" width="433.9" height="4.6" fill="url(#g67)"/><rect x="132.5" y="853.8" width="433.9" height="4.6" fill="url(#g68)"/><rect x="132.5" y="857.8" width="433.9" height="4.6" fill="url(#g69)"/><rect x="132.5" y="861.8" width="433.9" height="4.6" fill="url(#g70)"/><rect x="132.5" y="865.8" width="433.9" height="4.6" fill="url(#g71)"/><rect x="132.5" y="869.8" width="433.9" height="4.6" fill="url(#g72)"/><rect x="132.5" y="873.8" width="433.9" height="4.6" fill="url(#g73)"/><rect x="132.5" y="877.8" width="433.9" height="4.6" fill="url(#g74)"/><rect x="132.5" y="881.8" width="433.9" height="4.6" fill="url(#g75)"/><rect x="132.5" y="885.8" width="433.9" height="4.6" fill="url(#g76)"/><rect x="132.5" y="889.8" width="433.9" height="4.6" fill="url(#g77)"/><rect x="132.5" y="893.8" width="433.9" height="4.6" fill="url(#g78)"/><rect x="132.5" y="897.8" width="433.9" height="4.6" fill="url(#g79)"/><rect x="132.5" y="901.8" width="433.9" height="4.6" fill="url(#g80)"/><rect x="132.5" y="905.8" width="433.9" height="4.6" fill="url(#g81)"/><rect x="132.5" y="909.8" width="433.9" height="4.6" fill="url(#g82)"/><rect x="132.5" y="913.8" width="433.9" height="4.6" fill="url(#g83)"/><rect x="132.5" y="917.8" width="433.9" height="4.6" fill="url(#g84)"/><rect x="132.5" y="921.8" width="433.9" height="4.6" fill="url(#g85)"/><rect x="132.5" y="925.8" width="433.9" height="4.6" fill="url(#g86)"/><rect x="132.5" y="929.8" width="433.9" height="4.6" fill="url(#g87)"/><rect x="132.5" y="933.8" width="433.9" height="4.6" fill="url(#g88)"/><rect x="132.5" y="937.8" width="433.9" height="4.6" fill="url(#g89)"/><rect x="132.5" y="941.8" width="433.9" height="4.6" fill="url(#g90)"/><rect x="132.5" y="945.8" width="433.9" height="4.6" fill="url(#g91)"/><rect x="132.5" y="949.8" width="433.9" height="4.6" fill="url(#g92)"/><rect x="132.5" y="953.8" width="433.9" height="4.6" fill="url(#g93)"/><rect x="132.5" y="957.8" width="433.9" height="4.6" fill="url(#g94)"/><rect x="132.5" y="961.8" width="433.9" height="4.6" fill="url(#g95)"/><rect x="132.5" y="965.8" width="433.9" height="4.6" fill="url(#g96)"/>
<path d="M250.2 581.5L265.8 597.1M250.2 597.1L265.8 581.5" stroke="#ffffff" stroke-width="4" fill="none"/>
<path d="M210.6 616.1L226.2 631.7M210.6 631.7L226.2 616.1" stroke="#ffffff" stroke-width="4" fill="none"/>
<path d="M154.9 641.0L170.5 656.6M154.9 656.6L170.5 641.0" stroke="#ffffff" stroke-width="4" fill="none"/>
<path d="M188.1 686.1L203.7 701.7M188.1 701.7L203.7 686.1" stroke="#e4e4e4" stroke-width="4" fill="none"/>
<path d="M291.6 713.2L307.2 728.8M291.6 728.8L307.2 713.2" stroke="#e8e8e8" stroke-width="4" fill="none"/>
<path d="M381.1 703.8L396.7 719.4M381.1 719.4L396.7 703.8" stroke="#f4f4f4" stroke-width="4" fill="none"/>
<path d="M393.9 593.5L409.5 609.1M393.9 609.1L409.5 593.5" stroke="#ffffff" stroke-width="4" fill="none"/>
<path d="M481.6 653.8L497.2 669.4M481.6 669.4L497.2 653.8" stroke="#e8e8e8" stroke-width="4" fill="none"/>
<path d="M513.6 735.8L529.2 751.4M513.6 751.4L529.2 735.8" stroke="#ffffff" stroke-width="4" fill="none"/>
<path d="M436.5 752.7L452.1 768.3M436.5 768.3L452.1 752.7" stroke="#ececec" stroke-width="4" fill="none"/>
<path d="M255.8 775.3L271.4 790.9M255.8 790.9L271.4 775.3" stroke="#e0e0e0" stroke-width="4" fill="none"/>
<path d="M137.2 801.7L152.8 817.3M137.2 817.3L152.8 801.7" stroke="#ffffff" stroke-width="4" fill="none"/>
<path d="M124.7 745.2L140.3 760.8M124.7 760.8L140.3 745.2" stroke="#d0d0d0" stroke-width="4" fill="none"/>
<path d="M535.1 813.0L550.7 828.6M535.1 828.6L550.7 813.0" stroke="#ffffff" stroke-width="4" fill="none"/>
<path d="M406.4 836.7L422.0 852.3M406.4 852.3L422.0 836.7" stroke="#e8e8e8" stroke-width="4" fill="none"/>
<path d="M334.8 857.0L350.4 872.6M334.8 872.6L350.4 857.0" stroke="#ffffff" stroke-width="4" fill="none"/>
<path d="M449.6 875.1L465.2 890.7M449.6 890.7L465.2 875.1" stroke="#f0f0f0" stroke-width="4" fill="none"/>
<path d="M226.8 895.8L242.4 911.4M226.8 911.4L242.4 895.8" stroke="#f4f4f4" stroke-width="4" fill="none"/>
<path d="M351.8 907.8L367.4 923.4M351.8 923.4L367.4 907.8" stroke="#f0f0f0" stroke-width="4" fill="none"/>
<path d="M305.5 936.0L321.1 951.6M305.5 951.6L321.1 936.0" stroke="#ffffff" stroke-width="4" fill="none"/>
<path d="M538.1 948.4L553.7 964.0M538.1 964.0L553.7 948.4" stroke="#f4f4f4" stroke-width="4" fill="none"/>
<path d="M558.6 574.0L574.2 589.6M558.6 589.6L574.2 574.0" stroke="#d0d0d0" stroke-width="4" fill="none"/>
<path d="M124.7 960.8L140.3 976.4M124.7 976.4L140.3 960.8" stroke="#d0d0d0" stroke-width="4" fill="none"/>
<path d="M314.9 767.5L330.5 783.1M314.9 783.1L330.5 767.5" stroke="#e0e0e0" stroke-width="4" fill="none"/>
<path d="M338.9 780.8L354.5 796.4M338.9 796.4L354.5 780.8" stroke="#e0e0e0" stroke-width="4" fill="none"/>
<path d="M357.9 772.6L373.5 788.2M357.9 788.2L373.5 772.6" stroke="#e0e0e0" stroke-width="4" fill="none"/>
<path d="M352.8 770.0L368.4 785.6M352.8 785.6L368.4 770.0" stroke="#808080" stroke-width="4" fill="none"/>
<path d="M333.2 777.6L348.8 793.2M333.2 793.2L348.8 777.6" stroke="#888888" stroke-width="4" fill="none"/>
<path d="M337.2 770.2L352.8 785.8M337.2 785.8L352.8 770.2" stroke="#808080" stroke-width="4" fill="none"/>
<path d="M335.2 765.6L350.8 781.2M335.2 781.2L350.8 765.6" stroke="#2a2a2a" stroke-width="4" fill="none"/>
<path d="M342.7 763.2L358.3 778.8M342.7 778.8L358.3 763.2" stroke="#333333" stroke-width="4" fill="none"/>
<path d="M345.9 765.6L361.5 781.2M345.9 781.2L361.5 765.6" stroke="#000000" stroke-width="4" fill="none"/>
<path d="M349.1 763.7L364.7 779.3M349.1 779.3L364.7 763.7" stroke="#000000" stroke-width="4" fill="none"/>
</g>
<rect x="132.5" y="581.8" width="433.9" height="386.80000000000007" fill="none" stroke="#000" stroke-width="2.1"/>
<line x1="123.4" y1="581.8" x2="132.5" y2="581.8" stroke="#000" stroke-width="2.1"/>
<text x="73.55" y="591.3" font-size="27.3" textLength="40.1" lengthAdjust="spacingAndGlyphs">0.2</text>
<line x1="123.4" y1="678.5" x2="132.5" y2="678.5" stroke="#000" stroke-width="2.1"/>
<text x="73.55" y="688" font-size="27.3" textLength="40.1" lengthAdjust="spacingAndGlyphs">0.1</text>
<line x1="123.4" y1="775.2" x2="132.5" y2="775.2" stroke="#000" stroke-width="2.1"/>
<text x="73.55" y="784.7" font-size="27.3" textLength="39.79" lengthAdjust="spacingAndGlyphs">0.0</text>
<line x1="123.4" y1="871.9" x2="132.5" y2="871.9" stroke="#000" stroke-width="2.1"/>
<text x="52.24" y="881.4" font-size="27.3" textLength="61.49" lengthAdjust="spacingAndGlyphs">−0.1</text>
<line x1="123.4" y1="968.6" x2="132.5" y2="968.6" stroke="#000" stroke-width="2.1"/>
<text x="52.24" y="978.1" font-size="27.3" textLength="61.49" lengthAdjust="spacingAndGlyphs">−0.2</text>
<line x1="132.5" y1="968.6" x2="132.5" y2="977.1" stroke="#000" stroke-width="2.1"/>
<text x="101.24" y="1006.4" font-size="27.3" textLength="61.49" lengthAdjust="spacingAndGlyphs">−0.2</text>
<line x1="241.0" y1="968.6" x2="241.0" y2="977.1" stroke="#000" stroke-width="2.1"/>
<text x="209.72" y="1006.4" font-size="27.3" textLength="61.49" lengthAdjust="spacingAndGlyphs">−0.1</text>
<line x1="349.4" y1="968.6" x2="349.4" y2="977.1" stroke="#000" stroke-width="2.1"/>
<text x="329.34" y="1006.4" font-size="27.3" textLength="40.22" lengthAdjust="spacingAndGlyphs">0.0</text>
<line x1="457.9" y1="968.6" x2="457.9" y2="977.1" stroke="#000" stroke-width="2.1"/>
<text x="437.81" y="1006.4" font-size="27.3" textLength="40.53" lengthAdjust="spacingAndGlyphs">0.1</text>
<line x1="566.4" y1="968.6" x2="566.4" y2="977.1" stroke="#000" stroke-width="2.1"/>
<text x="546.28" y="1006.4" font-size="27.3" textLength="40.53" lengthAdjust="spacingAndGlyphs">0.2</text>
<text x="287.27" y="1040.6" font-size="27" textLength="20.39" lengthAdjust="spacingAndGlyphs">Ω</text>
<text x="307.4" y="1044.6" font-size="18.8" textLength="100.49" lengthAdjust="spacingAndGlyphs">QFPZ QFPX</text>
<text transform="translate(33.2 824.45) rotate(-90)" x="0" y="0" font-size="27" textLength="20.84" lengthAdjust="spacingAndGlyphs">Ω</text>
<text transform="translate(37.4 800.62) rotate(-90)" x="0" y="0" font-size="18.8" textLength="73.63" lengthAdjust="spacingAndGlyphs">TR QFPX</text>
<text><tspan x="-1.74" y="525.43" font-size="29.51">(</tspan><tspan x="10.16" y="527.74" font-size="32.69">b</tspan><tspan x="31.36" y="525.43" font-size="29.51">)</tspan></text>
<defs><linearGradient id="cbv" x1="0" x2="0" y1="1" y2="0"><stop offset="0.000" stop-color="#00224e"/><stop offset="0.050" stop-color="#002b62"/><stop offset="0.100" stop-color="#083370"/><stop offset="0.150" stop-color="#243c6e"/><stop offset="0.200" stop-color="#35456c"/><stop offset="0.250" stop-color="#434e6c"/><stop offset="0.300" stop-color="#4f576c"/><stop offset="0.350" stop-color="#5b606e"/><stop offset="0.400" stop-color="#666970"/><stop offset="0.450" stop-color="#727274"/><stop offset="0.500" stop-color="#7d7c78"/><stop offset="0.550" stop-color="#888578"/><stop offset="0.600" stop-color="#948e77"/><stop offset="0.650" stop-color="#a19975"/><stop offset="0.700" stop-color="#aea371"/><stop offset="0.750" stop-color="#bcae6c"/><stop offset="0.800" stop-color="#c8b866"/><stop offset="0.850" stop-color="#d6c35d"/><stop offset="0.900" stop-color="#e5cf52"/><stop offset="0.950" stop-color="#f3db42"/><stop offset="1.000" stop-color="#fee838"/></linearGradient></defs>
<rect x="592.9" y="580.9" width="20.100000000000023" height="388.30000000000007" fill="url(#cbv)" stroke="#000" stroke-width="2.1"/>
<line x1="613.0" y1="651.5" x2="622" y2="651.5" stroke="#000" stroke-width="2.1"/>
<text x="630.25" y="661" font-size="27.3" textLength="39.9" lengthAdjust="spacingAndGlyphs">0.8</text>
<line x1="613.0" y1="726.0" x2="622" y2="726.0" stroke="#000" stroke-width="2.1"/>
<text x="630.25" y="735.5" font-size="27.3" textLength="40.05" lengthAdjust="spacingAndGlyphs">0.6</text>
<line x1="613.0" y1="800.7" x2="622" y2="800.7" stroke="#000" stroke-width="2.1"/>
<text x="630.26" y="810.2" font-size="27.3" textLength="39.6" lengthAdjust="spacingAndGlyphs">0.4</text>
<line x1="613.0" y1="875.7" x2="622" y2="875.7" stroke="#000" stroke-width="2.1"/>
<text x="630.24" y="885.2" font-size="27.3" textLength="40.21" lengthAdjust="spacingAndGlyphs">0.2</text>
<line x1="613.0" y1="949.9" x2="622" y2="949.9" stroke="#000" stroke-width="2.1"/>
<text x="630.25" y="959.4" font-size="27.3" textLength="39.9" lengthAdjust="spacingAndGlyphs">0.0</text>
<text transform="translate(699.8 783.71) rotate(-90)" x="0" y="0" font-size="27.3" textLength="15.78" lengthAdjust="spacingAndGlyphs" font-style="italic">P</text>
<rect x="843.2" y="580.7" width="129.2" height="1.3" fill="#b3d6e8" opacity="0.55"/>
<rect x="972.4" y="580.7" width="129.2" height="1.3" fill="#f09c7b" opacity="0.55"/>
<rect x="1101.6" y="580.7" width="129.2" height="1.3" fill="#db6b55" opacity="0.55"/>
<rect x="1229.8" y="581.0" width="1.3" height="129.2" fill="#db6b55" opacity="0.55"/>
<rect x="1229.8" y="710.2" width="1.3" height="129.2" fill="#053061" opacity="0.55"/>
<rect x="843.2" y="967.6" width="129.2" height="1.3" fill="#a81529" opacity="0.55"/>
<rect x="972.4" y="967.6" width="129.2" height="1.3" fill="#93c6de" opacity="0.55"/>
<rect x="1101.6" y="967.6" width="129.2" height="1.3" fill="#e6eff4" opacity="0.55"/>
<rect x="1229.8" y="839.4" width="1.3" height="129.2" fill="#e6eff4" opacity="0.55"/>
<rect x="846.9" y="585.3" width="121.3" height="121.2" fill="#b3d6e8"/>
<text x="883.76" y="651" font-size="18.3" textLength="47.46" lengthAdjust="spacingAndGlyphs">-0.73</text>
<rect x="976.1" y="585.3" width="121.3" height="121.2" fill="#f09c7b"/>
<text x="1015.7" y="651" font-size="18.3" textLength="41.49" lengthAdjust="spacingAndGlyphs" fill="#fff">1.07</text>
<rect x="1105.3" y="585.3" width="121.3" height="121.2" fill="#db6b55"/>
<text x="1144.9" y="651" font-size="18.3" textLength="41.49" lengthAdjust="spacingAndGlyphs" fill="#fff">1.42</text>
<rect x="846.9" y="714.5" width="121.3" height="121.2" fill="#c0dceb"/>
<text x="883.77" y="780.2" font-size="18.3" textLength="47.14" lengthAdjust="spacingAndGlyphs">-0.64</text>
<rect x="976.1" y="714.5" width="121.3" height="121.2" fill="#f5aa89"/>
<text x="1016.47" y="780.2" font-size="18.3" textLength="40.6" lengthAdjust="spacingAndGlyphs">0.96</text>
<rect x="1105.3" y="714.5" width="121.3" height="121.2" fill="#053061"/>
<text x="1142.16" y="780.2" font-size="18.3" textLength="47.57" lengthAdjust="spacingAndGlyphs" fill="#fff">-2.52</text>
<rect x="846.9" y="843.7" width="121.3" height="121.2" fill="#a81529"/>
<text x="887.05" y="909.4" font-size="18.3" textLength="40.71" lengthAdjust="spacingAndGlyphs" fill="#fff">2.08</text>
<rect x="976.1" y="843.7" width="121.3" height="121.2" fill="#93c6de"/>
<text x="1012.96" y="909.4" font-size="18.3" textLength="47.46" lengthAdjust="spacingAndGlyphs">-0.99</text>
<rect x="1105.3" y="843.7" width="121.3" height="121.2" fill="#e6eff4"/>
<text x="1142.16" y="909.4" font-size="18.3" textLength="47.46" lengthAdjust="spacingAndGlyphs">-0.23</text>
<line x1="907.8" y1="581.0" x2="907.8" y2="572.2" stroke="#000" stroke-width="2.1"/>
<line x1="834.1" y1="645.6" x2="843.2" y2="645.6" stroke="#000" stroke-width="2.1"/>
<line x1="1037.0" y1="581.0" x2="1037.0" y2="572.2" stroke="#000" stroke-width="2.1"/>
<line x1="834.1" y1="774.8" x2="843.2" y2="774.8" stroke="#000" stroke-width="2.1"/>
<line x1="1166.2" y1="581.0" x2="1166.2" y2="572.2" stroke="#000" stroke-width="2.1"/>
<line x1="834.1" y1="904.0" x2="843.2" y2="904.0" stroke="#000" stroke-width="2.1"/>
<text x="756.14" y="655.8" font-size="27.3" textLength="68.57" lengthAdjust="spacingAndGlyphs">QFPZ</text>
<text x="756.17" y="785" font-size="27.3" textLength="68.3" lengthAdjust="spacingAndGlyphs">QFPX</text>
<text x="787.19" y="914.2" font-size="27.3" textLength="38.09" lengthAdjust="spacingAndGlyphs">TR</text>
<text transform="translate(913.1 562.62) rotate(-90)" x="0" y="0" font-size="27.3" textLength="66.41" lengthAdjust="spacingAndGlyphs">QFPZ</text>
<text transform="translate(1042.3 562.59) rotate(-90)" x="0" y="0" font-size="27.3" textLength="66.15" lengthAdjust="spacingAndGlyphs">QFPX</text>
<text transform="translate(1171.5 562.11) rotate(-90)" x="0" y="0" font-size="27.3" textLength="32.27" lengthAdjust="spacingAndGlyphs">TR</text>
<text><tspan x="721.87" y="525.11" font-size="29.79">(</tspan><tspan x="733.46" y="527.44" font-size="32.72">c</tspan><tspan x="752.63" y="525.11" font-size="29.79">)</tspan></text>
<defs><linearGradient id="cbr" x1="0" x2="0" y1="1" y2="0"><stop offset="0.000" stop-color="#053061"/><stop offset="0.031" stop-color="#0e4179"/><stop offset="0.062" stop-color="#175290"/><stop offset="0.094" stop-color="#1f63a8"/><stop offset="0.125" stop-color="#2a71b2"/><stop offset="0.156" stop-color="#3480b9"/><stop offset="0.188" stop-color="#3f8ec0"/><stop offset="0.219" stop-color="#529dc8"/><stop offset="0.250" stop-color="#6bacd1"/><stop offset="0.281" stop-color="#84bcd9"/><stop offset="0.312" stop-color="#9bc9e0"/><stop offset="0.344" stop-color="#aed3e6"/><stop offset="0.375" stop-color="#c2ddec"/><stop offset="0.406" stop-color="#d4e6f1"/><stop offset="0.438" stop-color="#e0ecf3"/><stop offset="0.469" stop-color="#ecf2f5"/><stop offset="0.500" stop-color="#f7f6f6"/><stop offset="0.531" stop-color="#f9eee7"/><stop offset="0.562" stop-color="#fbe5d8"/><stop offset="0.594" stop-color="#fddcc9"/><stop offset="0.625" stop-color="#fbccb4"/><stop offset="0.656" stop-color="#f8bb9e"/><stop offset="0.688" stop-color="#f5aa89"/><stop offset="0.719" stop-color="#ee9677"/><stop offset="0.750" stop-color="#e48066"/><stop offset="0.781" stop-color="#db6b55"/><stop offset="0.812" stop-color="#d05548"/><stop offset="0.844" stop-color="#c53e3d"/><stop offset="0.875" stop-color="#ba2832"/><stop offset="0.906" stop-color="#ab162a"/><stop offset="0.938" stop-color="#930e26"/><stop offset="0.969" stop-color="#7c0722"/><stop offset="1.000" stop-color="#67001f"/></linearGradient></defs>
<rect x="1256.4" y="581.0" width="21.199999999999818" height="388.4" fill="url(#cbr)" stroke="#000" stroke-width="2.1"/>
<line x1="1277.6" y1="620.7" x2="1286.5" y2="620.7" stroke="#000" stroke-width="2.1"/>
<text x="1293.76" y="630.3" font-size="27.3" textLength="17.11" lengthAdjust="spacingAndGlyphs">2</text>
<line x1="1277.6" y1="697.5" x2="1286.5" y2="697.5" stroke="#000" stroke-width="2.1"/>
<text x="1293" y="707.15" font-size="27.3" textLength="17.07" lengthAdjust="spacingAndGlyphs">1</text>
<line x1="1277.6" y1="774.4" x2="1286.5" y2="774.4" stroke="#000" stroke-width="2.1"/>
<text x="1294.04" y="784" font-size="27.3" textLength="17.56" lengthAdjust="spacingAndGlyphs">0</text>
<line x1="1277.6" y1="851.2" x2="1286.5" y2="851.2" stroke="#000" stroke-width="2.1"/>
<text x="1293.65" y="860.85" font-size="27.3" textLength="37.6" lengthAdjust="spacingAndGlyphs">−1</text>
<line x1="1277.6" y1="928.1" x2="1286.5" y2="928.1" stroke="#000" stroke-width="2.1"/>
<text x="1293.59" y="937.7" font-size="27.3" textLength="38.92" lengthAdjust="spacingAndGlyphs">−2</text>
<text transform="translate(1366.1 866.54) rotate(-90)" x="0" y="0" font-size="27.3" textLength="18.74" lengthAdjust="spacingAndGlyphs" font-weight="bold">C</text>
<text transform="translate(1356 847.97) rotate(-90)" x="0" y="0" font-size="18.8" textLength="37.61" lengthAdjust="spacingAndGlyphs">res/</text>
<text transform="translate(1366.1 808.06) rotate(-90)" x="0" y="0" font-size="27.3" textLength="19.39" lengthAdjust="spacingAndGlyphs">−</text>
<text transform="translate(1366.1 782.99) rotate(-90)" x="0" y="0" font-size="27.3" textLength="11.5" lengthAdjust="spacingAndGlyphs" font-weight="bold">I</text>
<text transform="translate(1366.1 763.91) rotate(-90)" x="0" y="0" font-size="27.3" textLength="38.79" lengthAdjust="spacingAndGlyphs">(10</text>
<text transform="translate(1356 724.24) rotate(-90)" x="0" y="0" font-size="18.8" textLength="28.37" lengthAdjust="spacingAndGlyphs">−3</text>
<text transform="translate(1366.1 695.31) rotate(-90)" x="0" y="0" font-size="27.3" textLength="10.25" lengthAdjust="spacingAndGlyphs">)</text>
</svg>
</body></html>
